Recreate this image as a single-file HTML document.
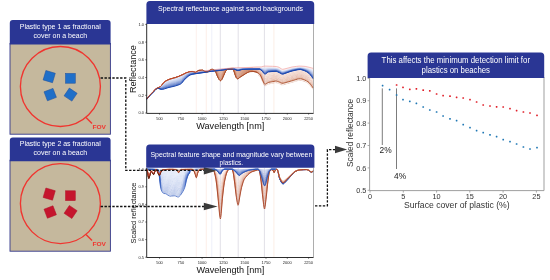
<!DOCTYPE html>
<html lang="en"><head><meta charset="utf-8"><title>Graphical abstract</title>
<style>
html,body{margin:0;padding:0;background:#fff;}
body{width:550px;height:280px;overflow:hidden;font-family:"Liberation Sans", sans-serif;}
svg{display:block;}
</style></head><body>
<svg width="550" height="280" viewBox="0 0 550 280">
<rect width="550" height="280" fill="#fff"/>
<g fill="none" stroke-linejoin="round">
<line x1="196.3" y1="24" x2="196.3" y2="113" stroke="#fae9e4" stroke-width="0.7"/>
<line x1="206.3" y1="24" x2="206.3" y2="113" stroke="#fae8df" stroke-width="0.7"/>
<line x1="211.8" y1="24" x2="211.8" y2="113" stroke="#e6e9f8" stroke-width="0.7"/>
<line x1="220.3" y1="24" x2="220.3" y2="113" stroke="#d4d3dc" stroke-width="0.7"/>
<line x1="238.2" y1="24" x2="238.2" y2="113" stroke="#d4d3dc" stroke-width="0.7"/>
<line x1="264.4" y1="24" x2="264.4" y2="113" stroke="#d4d3dc" stroke-width="0.7"/>
<line x1="273.9" y1="24" x2="273.9" y2="113" stroke="#f9e6dc" stroke-width="0.7"/>
<path d="M146.8 99l1.6 -2.1 1.6 -1.9 3.6 -3.6 2 -2.3 1.2 -.7 2.4 -1 1.2 -.7 1.2 -1.2 2.4 -3 .8 -.7 .8 -.6 2 -1 2.4 -1 5.6 -1.6 3.2 -1.2 4 -1.7 2.8 -1.5 1.2 -.5 3.6 -.9 2 -.2 .8 .1 2 .6 .8 .1 1.2 -.2 2.8 -.9 1.2 -.2 5.6 -.3 4.8 -.7 2.8 -.3 6 -.1 6 -1 5.6 -.5 1.6 -.1 2.4 .2 2 0 12.8 -.6 5.2 -.3 5.6 .1 3.2 -.4 6.8 0 4.8 .3 1.2 .3 1.6 .5 2.4 1.7 .8 .2 1.6 -.2 8.4 -2.1 4.4 -.7 2.8 -.2 2.8 .1 3.2 .3 4 1 3.6 1.2" stroke="#f9e0d7" stroke-width="0.45"/>
<path d="M146.8 99l1.6 -2.1 1.6 -1.9 3.6 -3.6 2 -2.3 1.2 -.7 2.4 -1 1.2 -.7 1.2 -1.2 2.4 -3 .8 -.7 .8 -.6 2 -1 2.4 -1 5.6 -1.6 3.2 -1.2 4 -1.7 2.8 -1.5 1.2 -.5 3.6 -.9 2 -.2 .8 .1 2 .6 .8 .1 1.2 -.2 2.4 -.8 1.2 -.3 2 -.1 4 -.2 5.6 -.8 2.8 -.2 3.6 .4 2 0 1.2 -.3 4 -1.1 2.8 -.3 3.6 -.3 1.2 0 2.4 .5 2 .1 8.4 -.6 9.2 -.6 3.2 .1 3.2 .3 6.8 -.2 4.4 .1 2.8 .1 1.2 .2 2 .7 2.4 1.6 .8 .3 1.6 -.2 8.4 -2.2 5.2 -.8 2 -.2 1.6 .1 3.2 .3 2.8 .5 2.8 .8 3.2 1.3" stroke="#f7dcd3" stroke-width="0.45" stroke-dasharray="0.8 0.5"/>
<path d="M146.8 99l1.6 -2.1 1.6 -1.9 3.6 -3.6 2 -2.3 1.2 -.7 2.4 -1 1.2 -.7 1.2 -1.2 2.4 -3 .8 -.7 .8 -.6 2 -1 2.4 -1 5.6 -1.6 3.2 -1.2 4 -1.7 2.8 -1.5 1.2 -.5 3.6 -.9 2 -.2 .8 .1 2 .6 .8 .1 1.2 -.3 2 -.6 1.6 -.4 2 -.2 2 .1 2 -.1 4.8 -.9 2.4 -.1 1.6 0 2.8 .7 2 .1 1.6 -.3 3.2 -1.2 1.6 -.5 5.2 -.4 1.6 0 2.4 .8 1.6 .2 10 -1 8 -.4 3.2 .1 3.2 .6 2.4 .1 6 -.2 4 .1 2 .1 1.2 .3 1.6 .6 2.4 1.5 .8 .3 1.6 -.2 8.4 -2.2 5.2 -.8 2 -.2 1.6 0 3.6 .4 2.8 .7 2.8 .9 2.8 1.3" stroke="#f6d9cf" stroke-width="0.45"/>
<path d="M146.8 99l1.6 -2.1 1.6 -1.9 3.6 -3.6 2 -2.3 1.2 -.7 2.4 -1 1.2 -.7 1.2 -1.2 2.4 -3 .8 -.7 .8 -.6 2 -1 2.4 -1 5.6 -1.6 3.2 -1.2 4 -1.7 2.8 -1.5 1.2 -.5 3.6 -.9 2 -.2 .8 .1 2 .6 .8 .1 1.2 -.3 2 -.7 1.6 -.4 2 -.1 2 .1 2 -.1 4.8 -.9 2 -.1 2 .1 2.8 1 .8 .2 1.2 .1 1.6 -.4 3.2 -1.6 .8 -.3 .8 -.2 2 -.3 3.6 -.2 1.2 .1 2.4 1.2 1.6 .2 11.2 -1.4 6.8 -.3 3.6 .3 1.2 .2 1.6 .5 2.8 .5 4.8 -.3 4.4 0 2.4 .1 1.2 .3 1.6 .5 2.4 1.6 .8 .2 1.6 -.2 7.2 -1.9 3.6 -.7 3.6 -.6 2.8 0 3.6 .4 2.8 .7 2.8 1.1 2.8 1.3" stroke="#f4d5ca" stroke-width="0.45" stroke-dasharray="0.8 0.5"/>
<path d="M146.8 99l1.6 -2.1 1.6 -1.9 3.6 -3.6 2 -2.3 1.2 -.7 2.4 -1 1.2 -.7 1.2 -1.2 2.4 -3 .8 -.7 .8 -.6 2 -1 2.4 -1 5.6 -1.6 3.2 -1.2 4 -1.7 2.8 -1.5 1.2 -.5 2.4 -.7 1.6 -.3 1.2 -.1 .8 .1 2.4 .6 .8 .1 1.2 -.3 1.6 -.7 2 -.4 2 -.1 2 .1 2.4 -.1 4 -.9 2 -.1 1.2 0 1.2 .2 1.6 .8 1.2 .5 .8 .2 1.2 .2 .8 -.2 .8 -.3 3.2 -1.8 .8 -.4 .8 -.2 1.6 -.3 3.6 -.2 1.2 0 .8 .3 .8 .6 1.2 .7 .4 .1 1.2 .2 7.2 -1.1 4 -.6 6.4 -.3 2 .1 2 .3 1.2 .3 1.6 .7 2 .6 .8 .1 4.8 -.4 4.4 -.1 2.4 .1 1.2 .3 1.6 .6 2.4 1.5 .8 .3 1.6 -.2 7.2 -2 4 -.8 3.2 -.5 1.6 -.1 1.2 .1 3.6 .5 2.8 .7 2.8 1.1 2.8 1.5" stroke="#f2d1c5" stroke-width="0.45"/>
<path d="M146.8 99l1.6 -2.1 1.6 -1.9 3.6 -3.6 2 -2.3 1.2 -.7 2.4 -1 1.2 -.7 1.2 -1.2 2.4 -3 .8 -.7 .8 -.6 2 -1 2.4 -1 5.6 -1.6 3.2 -1.2 4 -1.7 2.8 -1.5 1.2 -.5 2.4 -.7 1.6 -.3 1.6 -.1 .8 .1 2 .6 .8 .1 1.2 -.4 1.6 -.6 2 -.4 2 -.2 2 .2 2.4 0 4 -1 .8 -.1 1.2 -.1 1.2 .1 1.2 .3 1.6 1 1.2 .6 .8 .3 1.2 .2 .8 -.2 .8 -.3 3.2 -2.2 .8 -.4 .8 -.3 1.6 -.3 3.6 -.2 1.2 .1 .4 .1 .4 .3 .8 .7 1.2 .8 .4 .2 1.2 .2 .8 -.1 1.2 -.3 5.2 -1 4 -.6 4.4 -.3 2 0 2.4 .2 2 .4 .8 .3 1.6 .8 1.6 .7 1.2 .3 4.4 -.5 4.8 -.1 2.4 .1 1.2 .3 1.6 .5 2.4 1.5 .8 .3 1.6 -.2 7.2 -2 4.8 -1 3.2 -.4 2.4 .1 3.2 .5 3.2 .9 2.4 1.1 2.8 1.6" stroke="#f1cdc0" stroke-width="0.45" stroke-dasharray="0.8 0.5"/>
<path d="M146.8 99l1.6 -2.1 1.6 -1.9 3.6 -3.6 2 -2.3 1.2 -.7 2.4 -1 1.2 -.7 1.2 -1.2 2.4 -3 .8 -.7 .8 -.6 2 -1 2.4 -1 5.6 -1.6 3.2 -1.2 4 -1.7 2.8 -1.5 1.2 -.5 2.4 -.7 1.6 -.3 1.2 -.1 .8 .1 2 .5 .8 .2 .8 -.2 2.4 -.9 1.6 -.3 2.4 -.2 2 .3 2.4 -.1 4 -1 .8 -.2 1.2 0 1.2 .1 1.2 .4 1.6 1.2 1.2 .7 .8 .4 1.2 .2 .8 -.1 .8 -.4 3.2 -2.5 .8 -.5 .8 -.3 1.6 -.3 3.6 -.3 1.2 .2 .4 .1 .4 .3 .8 .9 1.2 .9 .4 .2 1.2 .3 .8 -.1 1.2 -.3 5.2 -1.2 4 -.7 4.4 -.3 1.6 0 2.4 .2 2.4 .5 .8 .4 1.6 1 2.4 1.1 .4 .1 .8 0 2.4 -.4 1.6 -.2 4.8 -.1 2 .1 1.2 .2 1.6 .6 2.4 1.5 .8 .2 1.6 -.2 7.2 -2 5.2 -1 2.8 -.4 2.4 .1 3.2 .5 3.2 1 2.4 1.1 2.8 1.8" stroke="#efc8bb" stroke-width="0.45"/>
<path d="M146.8 99l1.6 -2.1 1.6 -1.9 3.6 -3.6 2 -2.3 1.2 -.7 2.4 -1 1.2 -.7 1.2 -1.2 2.4 -3 .8 -.7 .8 -.6 2 -1 2.4 -1 5.6 -1.6 3.2 -1.2 4 -1.7 2.8 -1.5 1.2 -.5 2.4 -.7 1.6 -.3 1.2 -.1 .8 .1 2 .5 .8 .2 .8 -.2 2.4 -.9 1.6 -.4 2.4 -.2 2 .4 2.4 0 4 -1.2 .8 -.1 1.2 0 1.2 .1 1.2 .5 1.6 1.4 1.2 .8 .8 .5 1.2 .3 .8 -.2 .8 -.4 3.2 -2.9 .8 -.5 .8 -.4 1.6 -.3 3.6 -.2 1.2 .2 .4 .1 .4 .3 .8 1 1.2 1.2 .4 .2 1.2 .3 .8 -.1 1.2 -.4 5.2 -1.3 4 -.8 4 -.3 2 0 2.4 .2 1.2 .3 1.2 .4 .8 .3 1.6 1.2 2 1.3 .8 .2 1.2 -.1 2.8 -.5 5.2 -.2 2 0 1.2 .2 2 .7 2.4 1.4 .8 .3 1.6 -.3 7.2 -2 5.2 -1.1 2.8 -.3 2.4 .1 3.6 .6 2.8 .9 2.4 1.3 2.8 1.9" stroke="#edc4b5" stroke-width="0.45" stroke-dasharray="0.8 0.5"/>
<path d="M146.8 99l1.6 -2.1 1.6 -1.9 3.6 -3.6 2 -2.3 1.2 -.7 2.4 -1 1.2 -.7 1.2 -1.2 2.4 -3 .8 -.7 .8 -.6 2 -1 2.4 -1 5.6 -1.6 3.2 -1.2 4 -1.7 2.8 -1.5 1.2 -.5 2.4 -.7 1.6 -.3 1.2 -.1 .8 .1 2 .6 .8 .1 .8 -.2 2.4 -1 1.6 -.3 2.4 -.2 2 .4 2.4 0 4 -1.2 .8 -.1 1.2 0 1.2 .2 1.2 .5 1.6 1.6 1.2 .9 .8 .5 1.2 .4 .8 -.2 .8 -.5 3.2 -3.1 .8 -.6 .8 -.4 1.6 -.4 3.6 -.2 1.2 .2 .4 .2 .4 .4 .8 1.1 1.2 1.3 .4 .3 1.2 .3 .8 -.1 1.2 -.4 5.2 -1.5 4 -.9 1.2 -.2 2.8 -.1 2 0 2.4 .3 1.2 .3 1.2 .4 .8 .4 1.6 1.3 2 1.5 .8 .4 1.2 -.2 2.8 -.6 5.2 -.3 2 0 1.2 .2 2 .7 2.4 1.5 .8 .2 1.6 -.2 7.2 -2 5.6 -1.2 2.8 -.4 2 .1 3.6 .7 2.8 1 2.4 1.3 2.8 2.1" stroke="#ebbfb0" stroke-width="0.45"/>
<path d="M146.8 99l1.6 -2.1 1.6 -1.9 3.6 -3.6 2 -2.3 1.2 -.7 2.4 -1 1.2 -.7 1.2 -1.2 2.4 -3 .8 -.7 .8 -.6 2 -1 2.4 -1 5.6 -1.6 3.2 -1.2 4 -1.7 2.8 -1.5 1.2 -.5 2.4 -.7 1.6 -.3 1.2 -.1 .8 .1 2 .6 .8 .1 .8 -.2 2.4 -1.1 1.6 -.3 2.4 -.1 2 .4 2.4 .1 .8 -.2 3.2 -1.1 .8 -.2 1.2 .1 1.2 .2 1.2 .6 1.6 1.8 1.2 1 .8 .6 1.2 .4 .8 -.2 .8 -.5 3.2 -3.5 .8 -.6 .8 -.5 1.6 -.4 3.6 -.2 .4 .1 .8 .2 .4 .2 .4 .4 .8 1.3 1.2 1.4 .4 .3 1.2 .4 .8 -.1 1.2 -.5 5.2 -1.6 4 -1 1.2 -.2 4.4 -.1 1.6 .1 1.2 .2 1.2 .3 1.2 .5 1.2 .8 1.2 1.2 2 1.7 .8 .4 1.2 -.2 2 -.5 .8 -.1 5.2 -.4 2 0 1.2 .2 2 .7 2.4 1.4 .8 .2 .4 0 1.2 -.2 7.6 -2.1 4.4 -1 2.4 -.4 2 -.1 1.6 .2 2.4 .4 1.6 .5 1.6 .6 1.2 .6 1.6 .9 2.8 2.3" stroke="#e9bbaa" stroke-width="0.45" stroke-dasharray="0.8 0.5"/>
<path d="M146.8 99l1.6 -2.1 1.6 -1.9 3.6 -3.6 2 -2.3 1.2 -.7 2.4 -1 1.2 -.7 1.2 -1.2 2.4 -3 .8 -.7 .8 -.6 2 -1 2.4 -1 5.6 -1.6 3.2 -1.2 4 -1.7 2.8 -1.5 1.2 -.5 2.4 -.7 2 -.3 1.6 0 2 .6 .8 .1 .8 -.2 2.4 -1.1 1.2 -.3 2.8 -.2 2 .6 2.4 0 .8 -.2 3.2 -1.2 .8 -.1 1.2 .1 1.2 .2 1.2 .7 .4 .4 1.2 1.6 1.2 1.2 .8 .6 1.2 .4 .8 -.2 .8 -.5 3.2 -3.8 .8 -.7 .8 -.5 1.6 -.4 3.6 -.2 .4 0 .8 .3 .4 .2 .4 .5 .8 1.3 1.2 1.6 .4 .4 1.2 .4 .8 -.1 1.2 -.6 5.2 -1.7 4 -1.1 1.2 -.2 4.4 -.1 1.6 .1 1.2 .3 1.2 .3 1.2 .6 .8 .5 .4 .3 1.2 1.3 2 2 .4 .3 .4 .1 1.2 -.2 2 -.6 .8 -.1 5.2 -.4 2 0 1.2 .2 2 .6 2.4 1.4 .8 .2 .4 0 1.2 -.2 7.6 -2.1 4.4 -1 2.4 -.4 2 -.1 1.6 .1 2.4 .5 1.6 .5 1.6 .7 1.2 .6 1.6 1 2.8 2.4" stroke="#e6b6a4" stroke-width="0.45"/>
<path d="M146.8 99l1.6 -2.1 1.6 -1.9 3.6 -3.6 2 -2.3 1.2 -.7 2.4 -1 1.2 -.7 1.2 -1.2 2.4 -3 .8 -.7 .8 -.6 2 -1 2.4 -1 5.6 -1.6 3.2 -1.2 4 -1.7 2.8 -1.5 1.2 -.5 2.4 -.7 2 -.3 1.6 0 2 .6 .8 .1 .8 -.3 2.4 -1.1 1.2 -.2 2.8 -.2 2 .6 2.4 .1 .8 -.2 3.2 -1.3 .8 -.1 1.2 0 1.2 .3 1.2 .8 .4 .4 1.2 1.7 1.2 1.4 .8 .6 .8 .4 .4 .1 .4 0 .4 -.2 .8 -.6 3.2 -4.1 .8 -.7 .8 -.6 1.6 -.4 3.6 -.2 .4 .1 .8 .3 .4 .2 .4 .5 .8 1.5 1.2 1.7 .4 .4 1.2 .5 .4 0 .4 -.1 1.2 -.6 5.2 -1.9 2.4 -.8 1.6 -.4 1.2 -.2 3.2 -.2 1.2 .1 1.6 .1 1.2 .3 1.2 .4 1.2 .6 .8 .5 .4 .4 1.2 1.5 2 2.1 .4 .4 .4 .1 1.2 -.2 2 -.6 .8 -.2 5.2 -.4 2 -.1 1.2 .2 2 .7 2.4 1.4 .8 .2 .4 0 1.2 -.2 7.6 -2.2 4.8 -1.1 2 -.4 2 -.1 1.6 .2 2.4 .5 1.6 .5 1.6 .7 1.2 .6 1.6 1.1 1.2 1 1.6 1.5" stroke="#e4b19f" stroke-width="0.45" stroke-dasharray="0.8 0.5"/>
<path d="M146.8 99l1.6 -2.1 1.6 -1.9 3.6 -3.6 2 -2.3 1.2 -.7 2.4 -1 1.2 -.7 1.2 -1.2 2.4 -3 .8 -.7 .8 -.6 2 -1 2.4 -1 5.6 -1.6 3.2 -1.2 4 -1.7 2.8 -1.5 1.2 -.5 2.4 -.7 2 -.3 1.6 0 2 .6 .8 .1 .8 -.3 2 -1 1.2 -.3 1.6 -.2 1.6 0 2 .6 1.2 .1 1.2 0 .8 -.2 3.2 -1.3 .8 -.2 1.2 .1 1.2 .3 1.2 .8 .4 .5 1.2 1.9 1.2 1.5 .8 .7 .8 .5 .4 .1 .4 -.1 .4 -.2 .8 -.6 3.2 -4.4 .8 -.8 .8 -.6 1.6 -.5 3.6 -.1 .4 0 .8 .3 .4 .3 .4 .5 .8 1.7 1.2 1.9 .4 .4 .8 .4 .4 .1 .4 0 .4 -.1 1.2 -.7 5.2 -2 2.4 -.9 1.6 -.4 1.2 -.2 3.2 -.2 1.2 .1 1.6 .1 1.2 .3 1.2 .5 1.2 .6 .8 .6 .4 .4 3.2 4 .4 .4 .4 .1 1.2 -.1 2 -.8 .8 -.1 5.2 -.6 2 0 1.2 .2 1.6 .5 .8 .3 2 1.2 .8 .2 .4 0 1.2 -.2 7.2 -2.1 5.2 -1.2 2 -.4 2 -.1 1.6 .2 2.4 .6 1.6 .5 1.6 .7 1.2 .6 1.6 1.2 1.2 1 1.6 1.6" stroke="#e2ac99" stroke-width="0.45"/>
<path d="M146.8 99l1.6 -2.1 1.6 -1.9 3.6 -3.6 2 -2.3 1.2 -.7 2.4 -1 1.2 -.7 .8 -.8 2.4 -3 .8 -.8 .8 -.6 1.6 -.9 1.6 -.8 2 -.7 5.2 -1.5 2.8 -1 4.4 -1.9 3.2 -1.7 1.2 -.4 2.8 -.8 2 -.2 .8 .1 2 .6 .8 .1 .8 -.3 2.4 -1.2 1.6 -.3 2.4 -.1 2 .7 2 .2 .4 0 .8 -.3 2.8 -1.2 .8 -.3 1.2 0 1.2 .3 .8 .4 .8 .6 .4 .6 1.2 2 1.6 2 .8 .6 .8 .4 .4 -.1 .4 -.2 .8 -.6 3.2 -4.8 .8 -.8 .8 -.7 1.2 -.4 .8 -.1 3.2 -.1 .8 .2 .8 .5 .4 .6 .8 1.7 1.2 2.1 .4 .4 .8 .5 .4 .1 .4 0 .4 -.1 1.2 -.7 6.4 -2.7 3.2 -1 .8 -.2 3.6 -.1 2 .2 1.2 .3 2 .7 .8 .5 .8 .7 3.6 4.8 .4 .4 .4 .1 1.2 -.1 2 -.8 .8 -.2 5.2 -.6 2 -.1 1.2 .2 1.6 .6 .8 .3 2 1.1 .8 .2 .4 0 1.2 -.2 7.2 -2 5.6 -1.4 2 -.4 2 0 1.6 .3 2.4 .6 1.6 .6 1.6 .7 1.2 .8 1.2 .9 1.2 1.1 1.6 1.7" stroke="#e0a792" stroke-width="0.45" stroke-dasharray="0.8 0.5"/>
<path d="M146.8 99l1.6 -2.1 1.6 -1.9 3.6 -3.6 2 -2.3 1.2 -.7 2.4 -1 1.2 -.7 .8 -.8 2.4 -3 .8 -.8 .8 -.6 1.6 -.9 1.6 -.8 2 -.7 5.2 -1.5 2.8 -1 4.4 -1.9 3.2 -1.7 1.2 -.4 2.8 -.8 2 -.2 .8 .1 2 .6 .8 .1 .4 -.1 2.8 -1.5 1.6 -.2 2.4 -.1 2 .8 2 .2 .4 -.1 .8 -.2 2.8 -1.3 .8 -.3 1.2 0 1.2 .3 .8 .4 .8 .7 .4 .6 1.2 2.2 1.6 2.2 .8 .6 .8 .4 .4 0 .4 -.3 .8 -.7 3.2 -5 1.2 -1.3 .8 -.5 1.2 -.3 2.8 -.1 1.2 0 .4 .1 .8 .6 .4 .6 .8 1.9 1.2 2.2 .4 .5 .8 .5 .4 .2 .4 -.1 .4 -.1 1.2 -.8 6.4 -2.8 1.6 -.7 1.6 -.4 .8 -.2 3.2 -.1 1.6 .1 1.6 .3 1.2 .4 1.2 .5 .8 .6 .8 .7 3.6 5.2 .4 .4 .4 .2 1.2 -.2 2 -.9 .8 -.2 5.2 -.6 2 -.1 .8 .1 1.2 .3 1.6 .6 2 1.2 .8 .2 .4 0 1.2 -.3 6.8 -1.9 6 -1.6 2 -.3 2 0 1.6 .3 2.4 .6 1.6 .6 1.6 .8 1.2 .8 1.2 1 1.2 1.1 1.6 1.8" stroke="#dea28c" stroke-width="0.45"/>
<path d="M146.8 99l1.6 -2.1 1.6 -1.9 3.6 -3.6 2 -2.3 1.2 -.7 2.4 -1 1.2 -.7 .8 -.8 2.4 -3 .8 -.8 .8 -.6 1.6 -.9 1.6 -.8 2 -.7 5.2 -1.5 2.8 -1 4.4 -1.9 3.2 -1.7 1.2 -.4 2.8 -.8 2 -.2 .8 .1 2 .6 .8 .1 .8 -.3 2 -1.2 .4 -.2 1.2 -.1 2.8 -.1 2 .8 2 .2 .4 0 .8 -.3 2.8 -1.3 .8 -.3 1.2 0 1.2 .3 .8 .5 .8 .7 .4 .6 1.2 2.4 1.6 2.3 .8 .7 .8 .4 .4 0 .4 -.3 .8 -.7 3.2 -5.4 1.2 -1.4 .4 -.3 .8 -.3 .8 -.2 .8 -.1 3.2 0 .4 .2 .8 .6 .4 .7 .8 2 1.2 2.3 .4 .5 .8 .6 .4 .2 .4 -.1 .4 -.1 1.2 -.8 6.4 -3.1 1.6 -.6 1.6 -.6 .8 -.1 3.2 -.1 1.6 .1 1.6 .3 1.2 .4 1.2 .6 .8 .6 .8 .7 3.6 5.6 .4 .5 .4 .2 .4 0 .8 -.2 2 -.9 .8 -.2 5.2 -.7 2 -.2 .8 .1 1.2 .4 1.6 .6 2 1.1 .8 .2 .4 0 1.2 -.2 6.8 -2 6 -1.6 2 -.3 2 -.1 1.6 .3 2.4 .7 1.6 .6 1.6 .9 1.2 .8 1.2 1 1.2 1.2 1.6 1.9" stroke="#db9d86" stroke-width="0.45" stroke-dasharray="0.8 0.5"/>
<path d="M146.8 99l1.6 -2.1 1.6 -1.9 3.6 -3.6 2 -2.3 1.2 -.7 2.4 -1 1.2 -.7 1.2 -1.2 2.4 -3 .8 -.7 1.6 -1 1.6 -.8 2 -.8 5.6 -1.6 2.8 -1 4.4 -1.9 3.2 -1.7 1.2 -.4 2.8 -.8 2 -.2 .8 .1 2 .6 .8 .1 .4 -.1 2.4 -1.5 .4 -.1 1.2 -.2 2.8 -.1 2 .9 2 .3 .4 -.1 .8 -.2 2.8 -1.5 .8 -.3 1.2 .1 1.2 .3 .8 .5 .8 .8 .4 .6 1.2 2.6 1.6 2.4 .8 .8 .8 .5 .4 -.1 .4 -.3 .8 -.7 3.2 -5.7 1.2 -1.5 .4 -.3 .8 -.4 .8 -.2 .8 0 2.8 -.1 .4 .1 .4 .2 .8 .6 .4 .7 .8 2.2 1.2 2.4 .4 .6 .8 .6 .4 .2 .4 0 .4 -.2 1.2 -.9 6.4 -3.2 1.6 -.7 1.6 -.6 .8 -.1 3.2 -.1 1.6 .1 1.6 .3 1.2 .5 1.2 .6 .8 .6 .8 .8 3.6 6 .4 .5 .4 .2 .4 0 .8 -.2 2 -1 .8 -.2 5.2 -.8 2 -.1 .8 .1 1.2 .4 1.6 .6 2 1 .8 .2 .4 0 1.2 -.2 6.8 -2 6.4 -1.7 2 -.3 1.6 0 1.6 .3 2.4 .7 1.6 .7 1.6 .8 1.2 .9 1.2 1.1 1.2 1.2 1.6 2" stroke="#d99880" stroke-width="0.45"/>
<path d="M146.8 99l1.6 -2.1 1.6 -1.9 3.6 -3.6 2 -2.3 1.2 -.7 2.4 -1 1.2 -.7 1.2 -1.2 2.4 -3 .8 -.7 1.6 -1 1.6 -.8 2 -.8 5.6 -1.6 2.8 -1 4.4 -1.9 3.2 -1.7 1.2 -.4 2.8 -.8 2 -.2 .8 .1 2 .6 .8 .1 .4 -.1 2.4 -1.5 .4 -.2 1.2 -.1 2.8 -.1 2 .9 2 .3 .8 -.1 3.2 -1.7 .8 -.3 .4 -.1 .8 .1 1.2 .4 .8 .5 .8 .9 .4 .7 1.2 2.7 1.6 2.6 .8 .8 .8 .5 .4 -.1 .4 -.2 .8 -.9 3.2 -6 1.2 -1.5 .4 -.4 .8 -.3 .8 -.2 .8 -.1 2.8 -.1 .4 .1 .4 .2 .8 .7 .4 .8 .8 2.2 1.2 2.7 .4 .6 .8 .6 .4 .2 .4 0 .4 -.2 1.2 -.9 6.4 -3.5 1.6 -.7 1.6 -.6 .8 -.1 3.2 -.1 1.6 .1 1.6 .4 1.2 .4 1.2 .7 .8 .7 .8 .8 3.6 6.4 .4 .5 .4 .2 .4 0 .8 -.2 2 -1 .8 -.3 5.2 -.8 1.6 -.1 1.2 .1 1.2 .3 1.2 .4 2 1.1 .8 .3 1.2 0 14 -3.9 2 -.3 1.6 0 1.6 .3 2.4 .7 1.6 .7 1.6 .9 1.2 .9 1.2 1.1 1.2 1.3 1.6 2.1" stroke="#d79379" stroke-width="0.45" stroke-dasharray="0.8 0.5"/>
<path d="M146.8 99l1.6 -2.1 1.6 -1.9 3.6 -3.6 2 -2.3 1.2 -.7 2.4 -1 1.2 -.7 .8 -.8 2.4 -3 .8 -.8 1.6 -1.1 2 -1 2.8 -1.1 4.4 -1.2 2.4 -.8 5.2 -2.2 3.6 -1.8 2.8 -.9 1.6 -.3 1.6 -.1 .8 .2 1.6 .5 .8 .1 .4 -.1 2 -1.4 .8 -.4 3.2 -.2 .8 .1 .4 .1 1.6 .9 1.2 .2 1.2 0 .8 -.3 3.2 -1.7 .8 -.2 .8 .1 1.2 .4 .4 .2 .8 .8 .4 .5 .4 .7 1.2 2.8 1.2 2.2 .8 1.1 .8 .7 .4 .2 .4 -.1 .4 -.2 .8 -.9 3.2 -6.3 .8 -1.2 .8 -.8 1.2 -.5 .8 -.2 3.2 0 .4 .1 .4 .2 .8 .7 .4 .8 .8 2.4 1.2 2.8 .4 .6 .8 .7 .4 .2 .4 0 .4 -.3 .8 -.6 .8 -.5 4.8 -2.8 2 -1 1.2 -.5 1.2 -.5 .8 -.1 2.8 -.2 1.2 .1 1.6 .3 1.2 .3 1.6 .8 1.2 1 .8 .9 .4 .6 3.2 6.1 .4 .6 .4 .2 .4 0 .8 -.2 2 -1.1 .8 -.2 5.2 -.9 1.6 -.2 1.2 .1 1.2 .4 1.2 .4 2 1 .8 .3 1.2 0 14 -3.9 1.6 -.3 1.6 -.1 1.6 .3 2.8 .9 1.6 .7 1.6 .9 1.2 .9 1.2 1.2 1.2 1.3 1.6 2.1" stroke="#d48d73" stroke-width="0.45"/>
<path d="M146.8 99l1.6 -2.1 1.6 -1.9 3.6 -3.6 2 -2.3 1.2 -.7 2.4 -1 1.2 -.7 .8 -.8 2.4 -3 .8 -.8 1.6 -1.1 2 -1 2.8 -1.1 4.4 -1.2 2.4 -.8 5.2 -2.2 3.6 -1.8 2.8 -.9 1.6 -.3 1.6 -.1 .8 .2 1.6 .5 .8 .1 .4 -.2 2 -1.3 .8 -.4 2.8 -.2 1.2 0 2 1.1 1.2 .2 1.2 .1 .8 -.3 3.2 -1.8 .8 -.2 .8 .1 1.2 .4 .4 .2 .8 .9 .4 .5 .4 .7 1.2 3 1.2 2.3 .8 1.2 .8 .7 .4 .2 .4 0 .4 -.3 .8 -.9 3.2 -6.7 .8 -1.2 .8 -.9 1.2 -.5 .8 -.1 3.2 -.1 .4 .1 .4 .2 .8 .7 .4 .9 .8 2.6 1.2 2.9 .4 .7 .8 .7 .4 .2 .4 0 .4 -.3 1.2 -1 6 -3.5 1.6 -.9 1.6 -.6 1.2 -.4 2.8 -.1 1.2 .1 1.6 .3 1.2 .4 1.6 .8 1.2 1 .8 .9 .4 .7 3.2 6.5 .4 .6 .4 .3 .4 -.1 .8 -.2 2 -1.1 .8 -.3 5.2 -.9 1.6 -.2 .8 0 1.2 .3 1.6 .6 2 1 .8 .3 1.2 0 14 -4 1.6 -.4 1.6 0 1.6 .3 2.8 .9 1.6 .7 1.6 1 1.2 .9 1.2 1.2 1.2 1.5 1.6 2.1" stroke="#d2886c" stroke-width="0.45" stroke-dasharray="0.8 0.5"/>
<path d="M146.8 99l1.6 -2.1 1.6 -1.9 3.6 -3.6 2 -2.3 1.2 -.7 2.4 -1 1.2 -.7 .8 -.8 2.4 -3 .8 -.8 1.6 -1.1 2 -1 2.8 -1.1 4.4 -1.2 2.4 -.8 5.2 -2.2 3.6 -1.8 2.8 -.9 1.6 -.3 1.6 -.1 .8 .2 1.6 .5 .8 .1 .4 -.2 2 -1.4 .8 -.4 2.8 -.2 1.2 .1 2 1.1 1.2 .3 1.2 0 .8 -.3 3.2 -1.9 .8 -.2 .8 .1 1.2 .5 .4 .3 .8 .8 .4 .6 .4 .8 1.2 3.1 1.2 2.4 .8 1.3 .8 .8 .4 .2 .4 -.1 .4 -.3 .8 -1 3.2 -6.9 .8 -1.3 .8 -.9 1.2 -.6 .8 -.1 3.2 0 .4 0 .4 .3 .8 .7 .4 1 .8 2.6 1.2 3.1 .4 .7 .8 .8 .4 .2 .4 0 .4 -.3 1.2 -1 6 -3.7 1.6 -.9 1.6 -.8 1.2 -.3 2.8 -.1 1.2 .1 1.6 .3 1.2 .4 1.6 .9 1.2 1 .8 1 .4 .7 3.2 6.9 .4 .6 .4 .3 .4 0 .8 -.3 2 -1.2 .8 -.3 5.2 -1 1.6 -.2 .8 .1 1.2 .3 1.6 .5 2 1 .8 .3 1.2 0 14 -4.1 1.6 -.3 1.6 -.1 1.6 .4 2.8 .9 1.6 .7 1.6 1 1.2 1 1.2 1.3 1.2 1.5 1.6 2.2" stroke="#b9623f" stroke-width="0.5"/>
<path d="M146.8 99l1.6 -2.1 1.6 -1.9 3.6 -3.6 2 -2.3 1.2 -.7 2.4 -1 1.2 -.7 .8 -.8 2.4 -3 .8 -.8 1.6 -1.1 2 -1 2.8 -1.1 4.4 -1.2 2.4 -.8 5.2 -2.2 3.6 -1.8 2.8 -.9 1.6 -.3 1.6 -.1 .8 .2 1.6 .5 .8 .1 .4 -.2 2 -1.4 .8 -.5 2.8 -.1 1.2 0 2 1.2 1.2 .3 1.2 .1 .8 -.3 3.2 -2 .8 -.2 .8 .1 1.2 .5 .4 .3 .8 .9 .4 .6 .4 .8 1.2 3.3 1.2 2.5 .8 1.4 .8 .8 .4 .2 .4 -.1 .4 -.3 .8 -1 3.2 -7.3 .8 -1.3 .8 -1 1.2 -.5 .8 -.2 3.2 0 .4 .1 .4 .2 .8 .8 .4 1 .8 2.8 1.2 3.2 .4 .8 .8 .8 .4 .2 .4 0 .4 -.3 1.2 -1.1 6 -3.9 1.6 -.9 1.6 -.8 1.2 -.3 2.8 -.1 1.2 .1 2 .4 1.2 .5 1.6 1.1 1.2 1.2 .8 1.3 3.2 7.3 .4 .6 .4 .3 .4 0 .8 -.3 2 -1.3 .8 -.3 5.2 -1 1.6 -.2 .8 0 1.2 .3 1.6 .6 2 1 .8 .2 1.2 0 10 -2.8 4 -1.3 1.6 -.3 1.6 -.1 1.6 .3 2.8 1 1.6 .8 1.6 1 1.2 1 1.2 1.3 1.2 1.6 1.6 2.3" stroke="#a8441f" stroke-width="0.85"/>
<path d="M213.2 69.9l2.4 0 2.8 .7 2 .1 1.6 -.3 4 -1.5 .8 -.2 2 -.2 3.6 -.2 1.2 0 2.4 .8 1.6 .2 9.6 -1 5.6 -.3" stroke="#c98263" stroke-width="0.5"/>
<path d="M213.2 69.9l1.2 0 1.2 .2 1.6 .8 1.2 .5 .8 .2 1.2 .2 .8 -.2 .8 -.3 3.2 -1.8 .8 -.4 .8 -.2 1.6 -.3 3.6 -.2 1.2 0 .8 .3 .8 .6 1.2 .7 .4 .1 1.2 .2 9.6 -1.5 2.4 -.3 3.2 -.2" stroke="#c98263" stroke-width="0.5"/>
<path d="M213.2 69.8l1.2 .1 1.2 .4 1.6 1.2 1.2 .7 .8 .4 1.2 .2 .8 -.1 .8 -.4 3.2 -2.5 .8 -.5 .8 -.3 1.6 -.3 3.6 -.3 1.2 .2 .4 .1 .4 .3 .8 .9 1.2 .9 .4 .2 1.2 .3 .8 -.1 1.6 -.4 7.6 -1.6 2 -.3 3.2 -.2" stroke="#c98263" stroke-width="0.5"/>
<path d="M213.2 69.8l1.2 .2 1.2 .5 1.6 1.6 1.2 .9 .8 .5 1.2 .4 .8 -.2 .8 -.5 3.2 -3.1 .8 -.6 .8 -.4 1.6 -.4 3.6 -.2 1.2 .2 .4 .2 .4 .4 .8 1.1 1.2 1.3 .4 .3 1.2 .3 .8 -.1 1.6 -.6 7.6 -2 2 -.3 3.2 -.2" stroke="#c98263" stroke-width="0.5"/>
<path d="M213.2 69.8l1.2 .2 1.2 .7 .4 .4 1.2 1.6 1.2 1.2 .8 .6 1.2 .4 .8 -.2 .8 -.5 3.2 -3.8 .8 -.7 .8 -.5 1.6 -.4 3.6 -.2 .4 0 .8 .3 .4 .2 .4 .5 .8 1.3 1.2 1.6 .4 .4 1.2 .4 .8 -.1 1.6 -.7 7.6 -2.4 2 -.5 3.2 -.1" stroke="#c98263" stroke-width="0.5"/>
<path d="M213.2 69.7l1.2 .3 1.2 .8 .4 .5 1.2 1.9 1.2 1.5 .8 .7 .8 .5 .4 .1 .4 -.1 .4 -.2 .8 -.6 3.2 -4.4 .8 -.8 .8 -.6 1.6 -.5 3.6 -.1 .4 0 .8 .3 .4 .3 .4 .5 .8 1.7 1.2 1.9 .4 .4 .8 .4 .4 .1 .4 0 .4 -.1 1.6 -.8 4.8 -1.9 2.8 -1 2 -.5 3.2 -.2" stroke="#c98263" stroke-width="0.5"/>
<path d="M213.2 69.7l1.2 .4 1.2 .9 .4 .6 1.2 2.2 1.2 1.7 .8 .9 .8 .5 .4 .1 .4 0 .4 -.3 .8 -.7 3.2 -5 .8 -.9 .8 -.7 1.2 -.4 .8 -.2 3.2 -.1 .4 .1 .8 .4 .4 .3 .4 .6 .8 1.9 1.2 2.2 .4 .5 .8 .5 .4 .2 .4 -.1 .4 -.1 1.6 -1 4.8 -2.1 2.8 -1.2 2 -.5 3.2 -.2" stroke="#c98263" stroke-width="0.5"/>
<path d="M213.2 69.6l1.2 .5 1.2 1.1 .4 .6 1.2 2.6 1.2 1.9 .8 1 .8 .6 .4 .2 .4 -.1 .4 -.3 .8 -.7 3.2 -5.7 .8 -1.1 .8 -.7 1.2 -.5 .8 -.1 3.2 -.1 .4 .1 .8 .4 .4 .4 .4 .7 .8 2.2 1.2 2.4 .4 .6 .8 .6 .4 .2 .4 0 .4 -.2 .8 -.6 .8 -.5 4.8 -2.4 2.8 -1.3 2 -.7 3.2 -.1" stroke="#c98263" stroke-width="0.5"/>
<path d="M213.2 69.6l1.2 .5 1.2 1.3 .4 .7 1.2 2.8 1.2 2.2 .8 1.1 .8 .7 .4 .2 .4 -.1 .4 -.2 .8 -.9 3.2 -6.3 .8 -1.2 .8 -.8 1.2 -.5 .8 -.2 3.2 0 .4 .1 .8 .5 .4 .4 .4 .8 .8 2.4 1.2 2.8 .4 .6 .8 .7 .4 .2 .4 0 .4 -.3 .8 -.6 .8 -.5 4.8 -2.8 2.8 -1.4 2 -.7 3.2 -.2" stroke="#c98263" stroke-width="0.5"/>
<path d="M213.2 69.6l1.2 .6 1.2 1.4 .4 .8 1.2 3.1 1.2 2.4 .8 1.3 .8 .8 .4 .2 .4 -.1 .4 -.3 .8 -1 3.2 -6.9 .8 -1.3 .8 -.9 1.2 -.6 .8 -.1 3.2 0 .4 0 .8 .6 .4 .4 .4 1 .8 2.6 1.2 3.1 .4 .7 .8 .8 .4 .2 .4 0 .4 -.3 .8 -.7 .8 -.6 4.8 -3 2.8 -1.5 2 -.8 3.2 -.2" stroke="#c98263" stroke-width="0.5"/>
<path d="M258 74.5l1.2 1 1.2 1.4 .8 1.6 2.8 6.4 .4 .6 .4 .3 .4 0 .8 -.3 2 -1.3 .8 -.3 5.2 -1 1.6 -.2 .8 0 1.2 .3 1.6 .6 2 1 .8 .2 1.2 0 10 -2.8 4 -1.3 1.6 -.3 1.6 -.1 1.6 .3 2.8 1 1.6 .8 1.6 1 1.2 1 1.2 1.3 1.2 1.6 1.6 2.3" stroke="#b9623f" stroke-width="0.45" stroke-dasharray="0.8 0.6"/>
<path d="M146.8 99l1.6 -2.1 1.6 -1.9 3.6 -3.6 2 -2.3 1.2 -.7 2.4 -.9 1.2 -.7 1.2 -1.2 2.4 -2.8 .8 -.7 .8 -.5 2 -1.1 2 -.8 1.6 -.5 4.4 -1.2 3.6 -1.4 3.6 -1.6 2.8 -1.5 1.2 -.6 3.6 -1 2 -.2 .8 .1 2 .6 1.2 0 1.2 -.2 2.4 -.7 1.2 -.2 5.2 -.5 8.8 -1 10.8 -.8 8.8 -.4 15.6 .2 5.6 -.3 5.2 0 3.2 -.6 3.2 0 6 .1 3.2 .3 2.4 .8 2.4 1.6 .8 .2 1.6 -.1 6.8 -1.9 1.6 -.3 4.4 -.7 2.8 -.2 2.8 .1 3.2 .4 4 .9 3.6 1.2" stroke="#e3e9f9" stroke-width="0.5"/>
<path d="M146.8 99l1.6 -2.1 1.6 -1.9 3.6 -3.6 2 -2.3 1.2 -.7 2.4 -.9 1.2 -.6 1.2 -1.1 2.4 -2.7 1.2 -1 2 -1 2.4 -1 6.4 -1.9 3.6 -1.3 2.8 -1.3 3.2 -1.9 1.2 -.6 2.4 -.8 1.6 -.3 1.2 -.1 .8 0 2.4 .5 1.2 .1 1.2 -.2 2.4 -.8 1.2 -.2 5.2 -.4 8.8 -1.1 12 -.8 7.2 -.3 16 .1 6.4 -.3 4.4 .1 3.2 -.4 4 -.2 5.6 .2 2.8 .2 2.4 .8 2.4 1.6 .8 .3 1.6 -.2 8 -2.2 4.8 -.7 2.8 -.2 3.2 .1 3.2 .5 3.6 .9 3.6 1.4" stroke="#e0e6f8" stroke-width="0.5"/>
<path d="M146.8 99l1.6 -2.1 1.6 -1.9 3.6 -3.6 2 -2.2 1.2 -.8 2.8 -1 .8 -.4 1.2 -1 2.4 -2.6 1.2 -.9 2 -1.1 2.4 -1 6 -1.7 3.2 -1.1 3.2 -1.5 3.6 -2.1 1.2 -.7 2.4 -.8 1.6 -.4 1.2 -.1 .8 0 2.4 .5 1.2 0 1.2 -.2 2.4 -.7 1.2 -.2 5.2 -.5 8.8 -1 12 -.9 7.2 -.3 3.6 .1 3.6 -.1 8.8 .1 8.8 -.3 2.4 .1 6.8 -.4 5.2 .1 3.2 .3 2.4 .8 2.4 1.6 .4 .2 .8 0 1.2 -.2 8 -2.1 4.8 -.8 3.2 -.2 4 .3 2.4 .4 3.2 1 3.6 1.5" stroke="#dce3f7" stroke-width="0.5"/>
<path d="M146.8 99.1l1.6 -2.1 1.6 -1.9 3.6 -3.6 2 -2.3 .8 -.6 .8 -.4 2.4 -.7 .8 -.3 1.2 -1 2.4 -2.5 1.2 -.9 2 -1.1 2 -.8 2 -.6 4.4 -1.2 3.6 -1.3 2.8 -1.3 3.6 -2.3 1.2 -.6 2.4 -.9 1.6 -.4 1.2 -.2 .8 0 2.4 .5 1.2 0 1.2 -.2 3.2 -.9 5.6 -.5 8.4 -1 11.2 -.9 8.4 -.4 3.6 .2 3.6 -.1 9.2 0 8.4 -.2 2.4 .2 3.6 0 3.2 -.4 6.4 .1 1.6 .2 1.6 .4 1.6 .7 2 1.3 .4 .2 .8 .1 1.2 -.2 8 -2.2 4.8 -.8 3.2 -.3 1.6 .1 2.4 .3 2.8 .6 3.2 1.1 3.2 1.5" stroke="#d7dff5" stroke-width="0.5"/>
<path d="M146.8 99.1l1.6 -2.1 1.6 -1.9 3.6 -3.6 2 -2.3 .8 -.6 .8 -.3 2.4 -.7 1.2 -.6 .8 -.6 2.4 -2.4 .8 -.6 2 -1.1 2.4 -1 2 -.6 4.8 -1.3 3.6 -1.4 2.4 -1.2 3.6 -2.3 1.2 -.7 2.4 -1 2 -.5 1.6 -.1 2.4 .4 1.2 0 1.2 -.2 3.2 -.8 5.2 -.5 8.8 -1.1 11.2 -.9 8 -.3 4 .2 3.6 -.2 8.8 0 9.2 -.2 2 .3 3.2 .2 3.6 -.5 6.8 .1 1.2 .1 1.6 .5 1.6 .6 2 1.4 .4 .2 .8 0 1.2 -.2 8 -2.2 4.8 -.8 3.2 -.3 1.6 .1 2.4 .3 2.8 .6 1.6 .6 1.6 .6 3.2 1.7" stroke="#d1dbf3" stroke-width="0.5"/>
<path d="M146.8 99.1l1.6 -2.1 1.6 -1.9 3.6 -3.6 2 -2.3 .8 -.6 1.2 -.5 2.4 -.6 .8 -.4 .8 -.6 2.8 -2.5 2.4 -1.4 3.2 -1.2 5.6 -1.5 3.6 -1.3 2.4 -1.2 4 -2.7 1.2 -.7 2.4 -1 2 -.5 1.6 -.2 2.4 .4 1.2 0 4.4 -1 5.2 -.5 8.8 -1.1 11.6 -1 7.6 -.3 4 .3 4 -.3 8.4 .1 9.2 -.2 5.2 .7 .8 -.1 2.8 -.5 4 0 3.2 .1 1.2 .2 2 .6 .8 .4 2 1.4 .4 .1 .8 .1 1.2 -.2 8 -2.3 4.8 -.8 3.2 -.3 1.6 .1 2.8 .4 2.8 .7 2.8 1.2 3.2 1.8" stroke="#cbd5f1" stroke-width="0.5"/>
<path d="M146.8 99.1l1.6 -2.1 1.6 -1.9 3.6 -3.6 2 -2.3 .8 -.5 1.2 -.6 2.4 -.5 .8 -.3 .8 -.6 2.8 -2.4 2.4 -1.3 2.8 -1.1 6 -1.7 4 -1.4 2 -1 3.6 -2.6 1.6 -1 2.4 -1.1 2 -.5 1.6 -.1 2.4 .3 1.2 -.1 4.4 -.9 5.2 -.6 8.8 -1.1 11.6 -1 7.6 -.3 4 .4 4 -.3 8.8 0 8.8 -.2 5.2 1 .8 -.1 2.8 -.6 4 0 3.6 .1 1.2 .2 2 .8 2.4 1.5 .4 .2 .8 0 1.2 -.2 8 -2.3 4.8 -.8 3.2 -.3 1.6 .1 2.8 .4 2.8 .8 1.2 .4 1.6 .8 1.6 .9 1.6 1.1" stroke="#c4d0ee" stroke-width="0.5"/>
<path d="M146.8 99.1l1.6 -2.1 1.6 -1.9 3.6 -3.6 2 -2.3 .8 -.5 1.2 -.6 2.4 -.4 .8 -.3 .8 -.5 2.8 -2.3 1.6 -.9 1.6 -.7 2.8 -1 5.6 -1.5 4 -1.5 1.2 -.6 .8 -.5 3.2 -2.4 1.6 -1.1 2.8 -1.2 2 -.5 1.2 -.1 2.4 .2 1.2 0 4.4 -1 4.8 -.5 9.2 -1.1 11.6 -1.1 7.6 -.3 4 .5 4 -.4 8.8 0 8.8 -.2 2.8 .6 1.6 .5 .8 .2 .8 -.1 2.8 -.7 4 -.1 3.6 .1 1.2 .3 2 .7 2.4 1.6 .8 .2 .4 0 1.2 -.2 8 -2.4 4.8 -.9 3.2 -.2 1.6 .1 2.8 .5 2.8 .8 1.2 .4 1.6 .9 1.6 1 1.6 1.1" stroke="#bcc9eb" stroke-width="0.5"/>
<path d="M146.8 99.1l1.6 -2.1 1.6 -1.9 3.6 -3.6 2 -2.3 .8 -.5 1.2 -.5 2.4 -.4 .8 -.3 .8 -.4 2.8 -2.2 1.6 -.9 1.6 -.7 2.8 -.9 5.6 -1.5 4 -1.5 1.6 -.9 3.6 -2.8 1.6 -1.1 2.8 -1.3 2 -.5 1.2 -.1 3.2 .2 1.2 -.2 3.6 -.8 4.8 -.5 9.2 -1.2 11.6 -1 7.6 -.3 .8 0 2.4 .4 .8 .1 4 -.4 17.6 -.2 2.8 .7 1.6 .6 .8 .2 .8 -.1 2.8 -.8 4 -.1 3.6 .1 1.2 .2 1.6 .6 .8 .4 2 1.3 .8 .2 .4 0 1.2 -.2 8 -2.4 4.8 -.9 3.2 -.2 1.6 .1 2.8 .5 1.6 .4 1.6 .6 1.2 .5 1.6 1 2.8 2" stroke="#b3c3e8" stroke-width="0.5"/>
<path d="M146.8 99.1l1.6 -2.1 1.6 -1.9 3.6 -3.6 2 -2.2 .8 -.6 1.2 -.5 2.4 -.3 .8 -.2 .8 -.5 3.2 -2.2 2.8 -1.3 2.8 -1 5.6 -1.5 4 -1.4 1.6 -.9 3.6 -2.9 1.6 -1.2 2.8 -1.3 2 -.6 1.2 -.1 3.2 .1 1.2 -.1 3.6 -.8 4.8 -.5 9.2 -1.2 11.6 -1.1 7.6 -.3 .8 0 2.4 .5 .8 .1 4 -.5 17.6 -.2 .8 .2 2 .6 1.6 .8 .8 .2 .8 -.1 2 -.7 .8 -.2 4 -.1 3.6 0 .8 .2 1.2 .4 1.6 .7 2 1.3 .8 .2 .4 0 1.2 -.2 8 -2.5 4.8 -.9 1.6 -.2 1.6 0 1.6 .1 2.8 .5 1.6 .5 1.6 .6 1.2 .5 1.6 1 2.8 2.2" stroke="#abbce5" stroke-width="0.5"/>
<path d="M146.8 99.2l1.6 -2.2 1.6 -1.9 3.6 -3.6 2 -2.2 .8 -.6 .8 -.4 .8 -.2 2 -.1 .8 -.2 1.2 -.6 2.8 -1.9 2.4 -1.1 2.8 -1 6 -1.6 2.4 -.8 1.6 -.7 1.6 -.8 3.6 -3.1 2 -1.4 2.8 -1.3 2 -.5 .8 -.1 2.4 .1 1.2 0 4.4 -.9 4.8 -.6 6 -.8 13.6 -1.4 2.4 -.2 6.4 -.2 .8 .1 2.4 .5 .8 .1 4 -.5 17.6 -.3 .8 .2 2 .8 1.6 .8 .8 .2 .8 0 2 -.8 .8 -.2 4 -.2 3.6 .1 1.2 .2 2 .8 2.4 1.5 .8 .2 .4 0 1.2 -.2 8 -2.5 4.8 -.9 1.6 -.2 1.6 0 1.6 .1 2.8 .5 1.6 .5 1.6 .7 1.2 .6 1.6 1 2.8 2.4" stroke="#a1b4e1" stroke-width="0.5"/>
<path d="M146.8 99.2l1.6 -2.1 1.6 -1.9 3.6 -3.6 2 -2.3 .8 -.6 1.2 -.5 .4 -.1 2 0 .8 -.2 1.2 -.5 2.8 -1.8 2.8 -1.2 2.8 -.9 5.2 -1.4 4 -1.4 2 -1.1 3.6 -3.1 2 -1.5 1.6 -.9 1.2 -.5 2 -.5 .8 -.1 2.4 .1 1.2 -.1 4.4 -.8 4.8 -.6 6 -.9 14 -1.4 2.4 -.2 6 -.2 .8 .1 2.4 .6 .8 .1 4 -.6 17.6 -.2 .8 .2 2 .8 1.6 1 .8 .2 .8 -.1 2 -.8 .8 -.2 4 -.2 3.6 .1 1.2 .2 2 .8 2.4 1.5 .8 .2 .4 0 1.2 -.3 8 -2.4 4.8 -1 1.6 -.2 1.6 -.1 1.6 .2 2.8 .6 1.6 .5 1.6 .6 1.2 .7 1.6 1.1 1.2 .9 1.6 1.6" stroke="#97acde" stroke-width="0.5"/>
<path d="M146.8 99.2l1.6 -2.1 1.6 -1.9 3.6 -3.6 2 -2.3 .8 -.6 1.2 -.5 .4 -.1 2 .1 1.2 -.2 .8 -.4 2.8 -1.7 2.8 -1.2 2.4 -.8 5.6 -1.4 4 -1.4 1.2 -.6 .8 -.5 3.6 -3.3 2 -1.5 1.6 -.9 1.2 -.6 2 -.5 4.4 -.1 4.4 -.9 4.8 -.5 6 -.9 8.8 -.9 5.2 -.6 2.4 -.2 6 -.1 .8 0 2.4 .7 .8 .1 4 -.7 17.6 -.2 .8 .2 1.6 .8 2 1.3 .8 .2 .8 -.1 2 -.9 .8 -.2 4 -.2 3.6 0 1.2 .3 2 .8 2.4 1.4 .8 .2 .4 0 1.2 -.2 8 -2.5 4.8 -1 1.6 -.2 1.6 -.1 1.6 .2 2.8 .6 1.6 .5 1.6 .7 1.2 .7 1.6 1.1 1.2 1.1 1.6 1.6" stroke="#8da3da" stroke-width="0.5"/>
<path d="M146.8 99.2l1.6 -2.1 1.6 -1.9 3.6 -3.6 2 -2.3 .8 -.6 1.2 -.5 .4 -.1 2 .2 1.2 -.2 1.2 -.5 2.4 -1.4 2.8 -1.1 2.4 -.8 5.6 -1.4 4 -1.4 1.2 -.6 .8 -.5 3.2 -3.1 2.4 -1.9 1.6 -.9 1.2 -.6 1.2 -.4 1.2 -.2 3.6 -.1 4.8 -.9 4.4 -.5 6.4 -1 8.8 -.8 5.2 -.7 2.4 -.1 6 -.2 .8 .1 2.4 .7 .8 0 4 -.6 4.8 -.1 12.8 -.2 .8 .3 1.6 .8 2 1.4 .8 .3 .8 -.1 2 -1 .8 -.2 4 -.2 3.6 0 1.2 .2 2 .8 2.4 1.5 .8 .2 .4 0 1.2 -.3 8 -2.5 4.8 -1 1.6 -.2 1.6 -.1 1.6 .2 2.8 .6 1.6 .6 1.6 .7 1.2 .7 1.6 1.2 1.2 1.1 1.6 1.7" stroke="#829ad6" stroke-width="0.5"/>
<path d="M146.8 99.2l1.6 -2.1 1.6 -1.9 3.6 -3.6 2 -2.3 .8 -.5 1.2 -.6 .4 0 2 .2 1.2 -.1 1.2 -.5 2.4 -1.2 2.8 -1.2 2.4 -.7 5.6 -1.5 4 -1.4 1.2 -.5 .8 -.6 2.8 -2.7 1.6 -1.5 1.2 -.9 1.6 -1 1.2 -.6 1.2 -.3 1.2 -.3 3.6 -.2 4.4 -.8 4.8 -.5 6.4 -1 8.8 -.9 5.2 -.6 2.4 -.2 6 -.2 .8 .1 2.4 .8 .8 0 4 -.7 5.2 -.1 12.4 -.1 .8 .2 1.6 .9 2 1.6 .8 .3 .8 -.1 2 -1 .8 -.3 4 -.3 3.6 0 1.2 .3 2 .8 2.4 1.4 .8 .2 .4 0 1.2 -.2 6 -2 2 -.6 4.8 -1 1.6 -.2 1.6 -.1 1.6 .2 2.8 .6 1.6 .6 1.6 .8 1.2 .7 1.6 1.3 1.2 1.1 1.6 1.8" stroke="#7691d1" stroke-width="0.5"/>
<path d="M146.8 99.2l1.6 -2.1 1.6 -1.9 3.6 -3.6 2 -2.3 .8 -.5 1.2 -.6 .4 0 2.4 .3 1.2 -.2 3.6 -1.6 2.4 -1 2.4 -.7 5.6 -1.4 4 -1.4 1.2 -.6 .8 -.5 2.8 -2.9 1.6 -1.4 1.2 -1 1.6 -1 1.2 -.6 1.2 -.4 1.2 -.2 4 -.4 4 -.7 4.8 -.6 6.4 -1 8.8 -.8 5.6 -.8 2 -.1 6 -.2 .8 .2 2.4 .8 .8 0 4 -.7 5.6 -.2 12 -.1 .8 .3 1.6 .9 2 1.8 .8 .3 .8 -.1 2 -1.1 .8 -.3 4 -.3 3.6 0 1.2 .2 2 .9 2.4 1.4 .8 .2 .4 0 1.2 -.3 6 -2 2 -.6 4.8 -1 1.6 -.2 1.6 -.1 1.6 .2 2.8 .7 1.6 .6 1.6 .7 1.2 .8 1.6 1.3 1.2 1.2 1.6 1.9" stroke="#6a87cd" stroke-width="0.5"/>
<path d="M146.8 99.2l2 -2.6 1.6 -1.8 3.2 -3.2 2 -2.3 1.2 -.7 .8 -.3 .4 -.1 2.4 .4 1.2 -.1 6 -2.4 8 -2.1 4 -1.4 1.2 -.6 .8 -.5 2.4 -2.6 2.8 -2.6 2 -1.3 1.6 -.8 2 -.5 4 -.4 4 -.7 4.8 -.6 6 -.9 9.2 -1 4.8 -.6 2.4 -.3 6.8 -.1 .8 .2 1.6 .6 1.2 .2 4 -.8 5.6 -.2 11.6 -.1 .8 .2 .8 .4 1.6 1.1 1.6 1.5 .4 .3 .4 .1 .8 -.1 2 -1.2 .8 -.3 4 -.3 3.6 -.1 .8 .2 .8 .2 2 1 2 1.1 .8 .2 1.2 -.1 6.4 -2.2 2.4 -.7 4.8 -1 1.6 -.2 1.6 0 1.6 .2 2.4 .7 1.6 .6 1.6 .8 1.2 .8 1.6 1.4 1.2 1.3 1.6 1.9" stroke="#5e7dc8" stroke-width="0.5"/>
<path d="M146.8 99.2l2 -2.6 1.6 -1.8 3.2 -3.2 2 -2.2 1.2 -.8 .8 -.3 .4 -.1 2.4 .5 .8 0 .8 -.1 5.6 -2.2 7.6 -1.9 2.8 -.9 1.6 -.6 1.2 -.6 .8 -.6 2.4 -2.6 2.8 -2.6 2.4 -1.7 1.6 -.7 2 -.5 3.6 -.4 15.2 -2.2 8.8 -.9 4.8 -.7 2.4 -.3 6.8 -.1 .8 .3 1.6 .6 1.2 .2 .8 -.1 2.4 -.6 .8 -.2 5.6 -.2 11.6 0 .8 .1 .8 .5 1.6 1.1 1.6 1.7 .4 .3 .4 .1 .8 -.1 2 -1.3 .8 -.3 4 -.4 3.6 0 .8 .1 .8 .3 2 .9 2 1.2 .8 .2 1.2 -.2 6.4 -2.2 2.4 -.7 4.8 -1 1.6 -.2 1.6 0 1.6 .2 2.8 .9 1.6 .6 1.6 .9 1.2 .9 1.2 1.2 1.2 1.3 1.6 2" stroke="#5173c4" stroke-width="0.5"/>
<path d="M146.8 99.3l1.6 -2.1 1.6 -1.9 3.6 -3.6 1.6 -1.9 .8 -.7 1.2 -.7 .8 -.2 2.8 .7 1.2 -.1 1.2 -.4 4.8 -1.7 7.2 -1.8 4 -1.4 1.6 -.7 .8 -.6 2.4 -2.7 2 -2 1.2 -1.1 2 -1.3 .8 -.5 .8 -.3 2 -.5 11.6 -1.6 7.2 -1.1 8.4 -.8 5.2 -.8 2.4 -.2 6.8 -.1 .8 .2 1.6 .7 .8 .2 .4 0 .8 -.1 2.4 -.7 .8 -.1 6 -.2 11.2 -.1 .8 .2 .8 .4 1.6 1.3 1.6 1.8 .4 .3 .4 .1 .8 -.2 2 -1.3 .8 -.3 3.6 -.4 4 -.1 .8 .2 .8 .3 2 .9 2 1.1 .8 .2 1.2 -.1 6.4 -2.3 2.4 -.7 4.8 -1 1.6 -.2 1.6 0 1.6 .2 2.8 .9 1.6 .7 1.6 .9 1.2 1 1.2 1.1 1.2 1.4 1.6 2.1" stroke="#4368bf" stroke-width="0.5"/>
<path d="M146.8 99.3l1.6 -2.1 1.6 -1.9 3.6 -3.6 1.6 -1.9 .8 -.7 1.2 -.6 .8 -.2 2.8 .7 .8 0 .8 -.1 1.2 -.3 4.4 -1.6 6.8 -1.6 4.4 -1.5 1.6 -.7 .8 -.6 2.4 -2.8 2 -2.1 1.2 -1 2 -1.5 .8 -.4 .8 -.3 2.4 -.6 11.2 -1.6 7.2 -1.1 8.4 -.9 5.2 -.8 2.4 -.2 6.8 -.1 .8 .2 1.6 .8 .8 .2 .4 0 1.2 -.2 2 -.7 1.2 -.1 5.6 -.2 11.2 -.1 .8 .2 .8 .5 1.6 1.3 1.6 1.9 .4 .3 .4 .2 .8 -.2 2 -1.4 .8 -.3 3.6 -.4 4 -.1 .8 .1 .8 .3 2 1 1.6 .9 .8 .3 .4 .1 1.2 -.2 6.4 -2.2 2.4 -.7 4.8 -1.1 1.6 -.2 1.6 -.1 1.6 .3 2.8 .9 1.6 .8 1.6 .9 1.2 1 1.2 1.2 1.2 1.4 1.6 2.2" stroke="#365dba" stroke-width="0.5"/>
<path d="M146.8 99.3l1.6 -2.1 1.6 -1.9 3.6 -3.6 1.6 -1.9 .8 -.7 1.2 -.6 .8 -.2 2.4 .7 .8 .2 1.6 -.1 1.6 -.5 3.2 -1.1 7.2 -1.8 4.4 -1.4 1.6 -.8 .8 -.6 2.4 -2.9 2 -2.1 1.2 -1 2 -1.5 .8 -.5 .8 -.3 1.6 -.4 1.6 -.3 10.4 -1.5 7.6 -1.3 8 -.7 5.2 -.9 2.4 -.2 6.8 -.1 .8 .3 1.6 .8 .8 .2 .4 0 1.2 -.2 2 -.7 1.2 -.2 6 -.2 10.8 0 .8 .1 .8 .6 1.6 1.4 1.6 2 .4 .3 .4 .2 .8 -.2 2 -1.4 .8 -.5 3.6 -.3 4 -.2 1.2 .3 2 .9 2 1.2 .8 .3 .4 0 1.2 -.1 6.4 -2.3 2.4 -.7 4.8 -1.1 1.6 -.2 1.6 -.1 1.6 .3 2.8 1 1.6 .7 1.6 1 1.2 1 1.2 1.3 1.2 1.4 1.6 2.3" stroke="#2852b4" stroke-width="0.5"/>
<path d="M146.8 99.3l1.6 -2.1 1.6 -1.9 3.6 -3.6 2 -2.3 .8 -.5 1.2 -.6 .4 0 3.2 1.1 .8 0 .8 -.1 1.6 -.4 3.6 -1.2 7.2 -1.7 4 -1.3 1.6 -.8 .8 -.6 2.4 -3 2.4 -2.5 2.4 -2 1.6 -.9 2.4 -.7 4 -.7 7.2 -1 7.2 -1.2 9.2 -.9 5.6 -.9 2 -.2 6 -.1 .8 .2 2.4 1.1 .8 .1 .8 -.1 2.8 -.9 1.6 -.2 5.6 -.2 10.8 0 .8 .4 1.6 1.4 .4 .4 1.6 2.1 .4 .4 .4 .2 .4 0 .4 -.2 2 -1.5 .8 -.5 3.6 -.4 4 -.1 .8 .1 .8 .3 2 1 2 1.1 .8 .2 .4 0 1.2 -.3 6 -2.2 2.4 -.7 4.8 -1.1 1.6 -.2 1.6 -.1 1.6 .3 2.8 1 1.6 .8 1.6 1 1.2 1 1.2 1.3 1.2 1.6 1.6 2.3" stroke="#1946af" stroke-width="1.0"/>
<path d="M146.8 98.8l1.6 -2.1 1.6 -1.9 3.6 -3.6 2 -2.3 1.2 -.7 2.4 -1 1.2 -.7 1.2 -1.2 2.4 -3 .8 -.7 1.6 -1 1.6 -.8 2 -.8 5.6 -1.6 2.8 -1 4.4 -1.9 3.2 -1.7 1.2 -.4 2.8 -.8 2 -.2 1.2 .1 2.4 .7" stroke="#d8452f" stroke-width="0.8"/>
<path d="M196 72.2l1.2 -.1 3.6 -1.1 6 -.5 10.8 -1.2 6 -.6 12.8 -1 13.6 -.3 5.6 -.4 5.6 -.1 2.8 -.7 .8 -.1 7.6 .2 4 .2 1.2 .3 1.6 .6 2.4 1.6 .8 .3 1.6 -.2 8 -2.1 4.4 -.6 2.8 -.3 2.8 .1 3.2 .2 4 .9 4 1.1" stroke="#ee8f8f" stroke-width="0.6"/>
<path d="M146.8 99l1.6 -2.1 1.6 -1.9 3.6 -3.6 2 -2.3 1.2 -.7 2.4 -1 1.2 -.7 1.2 -1.2 2.4 -3 1.2 -1 2 -1.1 2 -.9 2 -.7 4.4 -1.2 2 -.7 5.2 -2.2 3.6 -1.8 2.8 -.9 1.6 -.3 1.6 -.1 .8 .2 1.6 .5 .8 .1 .4 -.2 2 -1.4 .8 -.5 2.8 -.1 1.2 0 2 1.2 1.2 .3 1.2 .1 .8 -.3 3.2 -2 .8 -.2 .8 .1 1.2 .5 .4 .3 1.2 1.5 .4 .8 1.2 3.3 1.2 2.5 .8 1.4 .8 .8 .4 .2 .4 -.1 .4 -.3 .8 -1 3.2 -7.3 .8 -1.3 .8 -1 .8 -.4 .8 -.2 3.6 -.1 .4 .1 .8 .6 .4 .4 .4 1 .8 2.8 1.2 3.2 .4 .8 .8 .8 .4 .2 .4 0 .4 -.3 1.2 -1.1 6.4 -4.1 1.6 -.9 1.6 -.7 1.2 -.2 3.2 -.1 2.4 .5 1.6 .8" stroke="#a8441f" stroke-width="0.8"/>
</g>
<g stroke="#222" stroke-width="0.95" fill="none">
<path d="M146.7,23.5 V113.4 H313.6"/>
<line x1="145.2" y1="24.4" x2="146.8" y2="24.4" stroke-width="0.6"/>
<line x1="145.2" y1="42.1" x2="146.8" y2="42.1" stroke-width="0.6"/>
<line x1="145.2" y1="59.8" x2="146.8" y2="59.8" stroke-width="0.6"/>
<line x1="145.2" y1="77.5" x2="146.8" y2="77.5" stroke-width="0.6"/>
<line x1="145.2" y1="95.3" x2="146.8" y2="95.3" stroke-width="0.6"/>
<line x1="145.2" y1="113.0" x2="146.8" y2="113.0" stroke-width="0.6"/>
<line x1="159.5" y1="113" x2="159.5" y2="114.6" stroke-width="0.6"/>
<line x1="180.8" y1="113" x2="180.8" y2="114.6" stroke-width="0.6"/>
<line x1="202.1" y1="113" x2="202.1" y2="114.6" stroke-width="0.6"/>
<line x1="223.4" y1="113" x2="223.4" y2="114.6" stroke-width="0.6"/>
<line x1="244.7" y1="113" x2="244.7" y2="114.6" stroke-width="0.6"/>
<line x1="266.0" y1="113" x2="266.0" y2="114.6" stroke-width="0.6"/>
<line x1="287.3" y1="113" x2="287.3" y2="114.6" stroke-width="0.6"/>
<line x1="308.6" y1="113" x2="308.6" y2="114.6" stroke-width="0.6"/>
</g>
<line x1="313.5" y1="23.5" x2="313.5" y2="113.4" stroke="#8a8a8a" stroke-width="0.7"/>
<g font-family='"Liberation Sans", sans-serif' font-size="4" fill="#222">
<text x="144" y="25.799999999999997" text-anchor="end">1.0</text>
<text x="144" y="43.5" text-anchor="end">0.8</text>
<text x="144" y="61.199999999999996" text-anchor="end">0.6</text>
<text x="144" y="78.9" text-anchor="end">0.4</text>
<text x="144" y="96.7" text-anchor="end">0.2</text>
<text x="144" y="114.4" text-anchor="end">0.0</text>
<text x="159.5" y="119.5" text-anchor="middle">500</text>
<text x="180.8" y="119.5" text-anchor="middle">750</text>
<text x="202.1" y="119.5" text-anchor="middle">1000</text>
<text x="223.4" y="119.5" text-anchor="middle">1250</text>
<text x="244.7" y="119.5" text-anchor="middle">1500</text>
<text x="266.0" y="119.5" text-anchor="middle">1750</text>
<text x="287.3" y="119.5" text-anchor="middle">2000</text>
<text x="308.6" y="119.5" text-anchor="middle">2250</text>
</g>
<text x="230.3" y="128.5" text-anchor="middle" font-family='"Liberation Sans", sans-serif' font-size="9.9" fill="#111" textLength="68" lengthAdjust="spacingAndGlyphs">Wavelength [nm]</text>
<text transform="translate(135.8,69.1) rotate(-90)" text-anchor="middle" font-family='"Liberation Sans", sans-serif' font-size="9.9" fill="#111" textLength="48" lengthAdjust="spacingAndGlyphs">Reflectance</text>
<g fill="none" stroke-linejoin="round">
<line x1="196.3" y1="168" x2="196.3" y2="257" stroke="#fae9e4" stroke-width="0.7"/>
<line x1="206.3" y1="168" x2="206.3" y2="257" stroke="#fae8df" stroke-width="0.7"/>
<line x1="211.8" y1="168" x2="211.8" y2="257" stroke="#e6e9f8" stroke-width="0.7"/>
<line x1="220.3" y1="168" x2="220.3" y2="257" stroke="#d4d3dc" stroke-width="0.7"/>
<line x1="238.2" y1="168" x2="238.2" y2="257" stroke="#d4d3dc" stroke-width="0.7"/>
<line x1="264.4" y1="168" x2="264.4" y2="257" stroke="#d4d3dc" stroke-width="0.7"/>
<line x1="273.9" y1="168" x2="273.9" y2="257" stroke="#f9e6dc" stroke-width="0.7"/>
<path d="M146.8 169.3l10.8 0 1.6 .3 1.6 .5 1.2 .3 4 -.2 2.8 .3 1.2 .1 4 -.3 3.6 .3 4 -.4 3.2 -.1 2 -.4 2.8 -.2 .4 -.2 24.4 0 5.6 .2 3.6 -.2 8.4 0 7.6 .3 8.8 -.3 9.6 0 2 .1 3.6 .5 1.2 .1 4.8 -.6 7.2 -.1 .4 .1 .8 1.8 1.2 5 .4 1.4 .4 .8 .8 1.6 .8 1.3 .8 .8 .4 .2 .4 0 .4 -.1 .8 -.6 2.4 -2.2 7.2 -7.2 1.2 -.9 1.6 -.7 1.6 -.5 1.2 -.3 3.6 -.2 3.2 -.1 1.2 .2 1.6 .6 1.6 1.6 .4 .2 .4 -.1 .4 -.1 .4 -.3 .8 -.9" stroke="#b0c3ed" stroke-width="0.33"/>
<path d="M146.8 169.3l10.8 0 .4 .2 .8 .1 .8 .5 1.2 .9 1.2 .3 3.6 -.1 2.8 .4 1.2 .1 2.8 -.3 1.2 0 3.6 .3 1.2 0 2.8 -.5 3.2 -.2 .8 -.2 1.6 -.7 1.6 -.4 1.2 -.1 .4 -.2 24.4 -.1 2 .1 3.6 .3 2.4 -.3 1.2 -.1 8.4 0 7.6 .5 3.2 -.2 5.6 -.2 9.6 -.1 2 .2 3.6 1 1.2 .2 .8 -.2 2.8 -.8 1.2 -.3 2 -.1 5.2 0 .4 .1 .8 1.8 1.2 5.1 .4 1.3 .4 .9 .8 1.6 .8 1.3 .8 .8 .4 .2 .4 0 .4 -.1 .8 -.6 2.4 -2.2 7.2 -7.3 1.2 -.9 1.6 -.7 1.6 -.5 1.2 -.3 3.6 -.2 3.2 -.1 1.2 .2 1.6 .6 1.6 1.6 .4 .2 .4 0 .4 -.2 .4 -.3 .8 -.9" stroke="#aec0ec" stroke-width="0.33"/>
<path d="M146.8 169.3l10.8 .1 .4 .3 .8 .1 .4 .3 1.6 1.7 1.2 .4 3.2 0 3.6 .6 1.2 -.1 1.6 -.2 1.2 -.1 4.4 .5 1.2 -.1 2.4 -.5 3.2 -.3 1.2 -.5 1.2 -.8 2 -.7 1.2 -.2 .4 -.4 24.4 -.1 2 .1 3.6 .5 .8 -.1 1.6 -.4 1.2 -.1 8.4 0 2.4 .2 4 .5 1.2 .1 3.2 -.4 5.6 -.3 9.6 -.1 .8 .1 1.2 .2 3.6 1.5 1.2 .3 .8 -.2 2.8 -1.4 1.2 -.3 2 -.2 5.2 0 .4 .1 .8 1.9 1.2 5 .4 1.4 .4 .8 .8 1.6 .8 1.3 .8 .9 .4 .2 .4 0 .4 -.2 .8 -.5 2.4 -2.3 7.2 -7.3 1.2 -.9 1.6 -.7 1.6 -.5 1.2 -.3 3.6 -.2 3.2 -.1 1.2 .2 1.6 .6 1.6 1.6 .4 .2 .4 0 .4 -.2 .4 -.3 .8 -.9" stroke="#aabeeb" stroke-width="0.33"/>
<path d="M146.8 169.3l10.8 .1 .4 .4 .4 0 .4 .2 .4 .3 .4 .5 .8 1.4 .4 .4 1.2 .5 3.2 .1 2.4 .6 .8 .1 1.2 0 2 -.4 .8 0 4.4 .5 1.2 -.1 2.4 -.5 2.8 -.3 .8 -.2 1.2 -.7 1.2 -1.1 2 -.9 1.2 -.2 .4 -.6 24.4 -.1 2 .1 3.6 .7 .8 -.1 1.6 -.5 1.2 -.1 8.4 -.1 2.4 .2 4 .7 1.2 .1 3.2 -.4 5.6 -.4 9.6 -.2 .8 .1 1.2 .3 3.6 2.1 .8 .2 .4 0 .8 -.2 2.8 -1.8 .8 -.4 .4 -.1 2 -.2 5.2 0 .4 .1 .8 1.9 1.2 5.1 .4 1.3 .4 .9 .8 1.6 .8 1.3 .8 .8 .4 .2 .4 0 .4 -.1 .8 -.6 2.4 -2.2 7.2 -7.4 1.2 -.9 1.6 -.7 1.6 -.5 1.2 -.3 3.6 -.2 3.2 -.1 1.2 .2 1.6 .6 1.6 1.6 .4 .2 .4 0 .4 -.2 .4 -.3 .8 -.9" stroke="#a6bbea" stroke-width="0.33"/>
<path d="M146.8 169.3l10.8 .1 .4 .5 .4 0 .4 .2 .8 1.1 .8 1.7 .4 .5 .8 .5 .8 .1 2.4 .1 3.2 .9 1.2 0 2.8 -.4 3.6 .5 .8 .1 1.2 -.1 2.4 -.6 2.8 -.3 .8 -.3 1.2 -.7 1.6 -1.6 2 -1.2 1.2 -.3 .4 -.6 5.6 -.1 18.8 -.1 2 .2 3.6 .8 .8 -.1 1.6 -.7 1.2 -.1 8.4 -.1 2.4 .3 4 .9 1.2 .1 3.2 -.6 5.6 -.5 9.6 -.2 .8 .1 1.2 .4 3.6 2.6 .8 .3 .4 0 .8 -.3 2.8 -2.2 .8 -.5 .4 -.1 2 -.3 5.2 0 .4 .1 .8 1.9 1.2 5.1 .4 1.4 .4 .8 .8 1.6 .8 1.4 .8 .8 .4 .2 .4 0 .4 -.1 .8 -.6 2.4 -2.3 7.2 -7.4 1.2 -.9 1.6 -.7 1.6 -.5 1.2 -.3 3.6 -.2 3.2 -.1 1.2 .2 1.6 .7 1.6 1.5 .4 .2 .4 0 .4 -.2 .4 -.2 .8 -1" stroke="#a2b7e8" stroke-width="0.33"/>
<path d="M146.8 169.3l10.8 .1 .4 .6 .4 0 .4 .3 .8 1.3 .8 2 .4 .6 .8 .5 .4 .1 2.8 .3 2.4 .9 .8 .1 1.2 0 2 -.4 .8 -.1 2.8 .6 1.2 .1 1.2 0 2.4 -.6 2.8 -.4 1.2 -.4 .8 -.6 .8 -.8 1.2 -1.5 2 -1.4 .4 -.2 .8 -.1 .4 -.8 5.6 -.1 18.8 -.1 2 .2 3.6 1 .8 -.1 1.6 -.8 1.2 -.2 1.2 -.1 7.2 0 2.4 .3 4 1.1 1.2 .1 3.2 -.6 5.6 -.6 4.4 -.2 5.2 -.1 .8 .1 1.2 .5 3.6 3.1 .8 .4 .4 0 .4 -.1 .4 -.3 1.6 -1.6 1.2 -1 .8 -.6 .4 -.2 2 -.3 5.2 0 .4 .1 .8 1.9 1.2 5.1 .4 1.4 .4 .9 .8 1.6 .8 1.3 .8 .9 .4 .2 .4 0 .4 -.2 .8 -.5 2.4 -2.3 7.2 -7.5 1.2 -.8 1.6 -.8 1.6 -.5 1.2 -.3 3.6 -.2 3.2 -.1 1.2 .2 1.6 .7 1.6 1.6 .4 .1 .4 0 .4 -.1 .4 -.3 .8 -1" stroke="#9db3e6" stroke-width="0.33"/>
<path d="M146.8 169.3l10.8 .1 .4 .7 .4 .1 .4 .2 .8 1.5 .8 2.4 .4 .7 .8 .6 2.8 .5 3.2 1.1 1.2 0 2 -.5 .8 0 .8 .1 2 .5 1.2 .2 1.2 -.1 2.8 -.7 2.4 -.3 1.2 -.4 .8 -.5 .4 -.4 .8 -.9 1.2 -1.8 .4 -.3 1.6 -1.3 .4 -.2 .8 -.1 .4 -1 5.6 -.1 18.8 -.1 2 .2 1.6 .5 1.6 .7 .4 .1 .8 -.2 1.6 -1 1.2 -.2 1.2 -.1 7.2 0 .8 .1 1.6 .3 4 1.3 1.2 .1 3.2 -.8 5.6 -.7 4.4 -.2 5.2 -.1 .8 .2 .8 .3 .4 .3 3.6 3.5 .8 .5 .4 0 .4 -.1 .4 -.3 1.6 -1.9 1.2 -1.2 .8 -.7 .4 -.2 2 -.4 5.2 0 .4 .1 .8 1.9 1.2 5.2 .4 1.3 .4 .9 .8 1.7 .8 1.3 .8 .9 .4 .1 .4 0 .4 -.1 .8 -.6 2.4 -2.3 7.2 -7.4 1.2 -.9 1.6 -.8 1.6 -.5 1.2 -.3 3.6 -.2 3.2 -.1 1.2 .3 1.6 .6 1.6 1.6 .4 .2 .4 -.1 .4 -.1 .4 -.3 .8 -1" stroke="#99afe5" stroke-width="0.33"/>
<path d="M146.8 169.3l10.8 .1 .4 .8 .4 .1 .4 .3 .8 1.7 .8 2.7 .4 .8 .8 .6 2.8 .7 2.4 1 .8 .2 .8 0 2 -.5 1.2 -.1 2.4 .8 1.6 .1 1.2 -.1 2.4 -.6 2.4 -.3 .8 -.2 .8 -.4 .8 -.7 .8 -1 1.6 -2.4 2 -1.8 .4 -.3 .8 -.1 .4 -1.1 5.6 -.2 18.8 -.1 2 .2 1.6 .6 1.6 .8 .4 .1 .4 -.1 .4 -.2 1.6 -1 1.2 -.3 1.2 -.1 7.2 0 .8 .1 1.6 .3 4 1.5 1.2 .2 .8 -.2 1.2 -.5 1.2 -.2 5.6 -.8 4.4 -.3 5.2 -.1 .8 .2 .8 .4 .4 .3 3.6 4 .8 .6 .4 0 .4 -.2 .4 -.3 1.6 -2.2 1.2 -1.4 .8 -.7 .4 -.2 1.2 -.4 .8 -.1 5.2 0 .4 .1 .8 1.9 1.2 5.2 .4 1.4 .4 .9 .8 1.6 .8 1.4 .8 .8 .4 .2 .4 0 .4 -.1 .8 -.6 2.4 -2.3 7.2 -7.5 1.2 -.9 1.6 -.8 1.6 -.5 1.2 -.3 3.6 -.2 3.2 -.1 1.2 .3 1.6 .6 1.6 1.6 .4 .2 .4 -.1 .4 -.1 .4 -.3 .8 -1" stroke="#93abe3" stroke-width="0.33"/>
<path d="M146.8 169.3l10.8 .2 .4 .9 .4 0 .4 .4 .4 .8 .4 1.1 .8 3 .4 .9 .4 .4 .4 .2 2.4 .7 2.4 1.2 .8 .3 .8 0 2.4 -.5 .8 -.1 .8 .1 1.6 .7 1.6 .2 1.2 -.2 2.8 -.6 2 -.2 .8 -.2 .8 -.4 .8 -.6 .8 -1 .8 -1.2 1.2 -2.1 2 -2 .4 -.3 .8 -.2 .4 -1.2 5.6 -.2 18.8 -.1 2 .3 1.6 .6 1.6 .9 .4 .1 .4 -.1 .4 -.2 1.6 -1.2 1.2 -.3 1.2 -.1 7.2 0 .8 .1 1.6 .4 4 1.6 .8 .2 .4 0 .8 -.2 1.2 -.5 1.2 -.3 5.6 -.9 4.4 -.3 5.2 -.1 .8 .2 .8 .4 .4 .4 3.6 4.5 .8 .6 .4 .1 .4 -.2 .4 -.4 1.6 -2.4 1.2 -1.6 .8 -.9 .4 -.2 1.2 -.4 .8 -.1 5.2 0 .4 .1 .8 1.9 1.2 5.2 .4 1.4 .4 .9 .8 1.7 .8 1.3 .8 .9 .4 .2 .4 0 .4 -.2 .8 -.5 2.4 -2.4 7.2 -7.5 1.2 -.9 1.6 -.8 1.6 -.5 1.2 -.3 3.6 -.2 3.2 -.1 1.2 .3 1.6 .6 1.6 1.6 .4 .2 .4 0 .4 -.2 .4 -.3 .8 -1" stroke="#8ea7e1" stroke-width="0.33"/>
<path d="M146.8 169.3l10.8 .2 .4 1 .4 0 .4 .4 .4 .9 .4 1.3 .8 3.3 .4 1 .4 .4 .4 .2 2.4 1 2.4 1.2 .8 .3 .8 0 2 -.5 1.2 -.1 .8 .2 1.6 .7 1.2 .1 1.2 -.1 2.8 -.6 2.4 -.2 .8 -.3 .8 -.5 .8 -.8 .8 -1.1 .8 -1.2 1.2 -2.3 2 -2.3 .4 -.3 .8 -.2 .4 -1.4 5.6 -.2 18.8 -.1 2 .3 1.6 .7 1.6 1 .4 .1 .4 -.1 .4 -.2 1.6 -1.3 1.2 -.4 1.2 -.1 7.2 0 .8 .1 1.6 .4 4 1.9 .8 .2 .4 0 .8 -.3 1.2 -.5 1.2 -.3 5.6 -1 4.4 -.4 5.2 -.1 .8 .2 .8 .5 .4 .4 3.6 5.1 .4 .4 .4 .2 .4 .1 .4 -.2 .4 -.5 1.6 -2.6 1.2 -1.8 .8 -1 .4 -.2 1.2 -.4 .8 -.2 5.2 0 .4 .1 .8 1.9 1.2 5.3 .4 1.4 .4 .9 .8 1.6 .8 1.4 .8 .9 .4 .2 .4 0 .4 -.2 .8 -.6 2.4 -2.3 7.2 -7.6 1.2 -.9 1.6 -.7 1.6 -.6 1.2 -.3 3.6 -.2 3.2 -.1 1.2 .3 1.6 .6 1.6 1.6 .4 .2 .4 0 .4 -.2 .4 -.3 .8 -.9" stroke="#88a2de" stroke-width="0.33"/>
<path d="M146.8 169.3l6 0 4.8 .2 .4 1.1 .4 .1 .4 .4 .4 1 .4 1.4 .8 3.6 .4 1 .4 .4 4.4 2.4 1.2 .6 .8 .1 2 -.5 1.2 -.2 .8 .2 2 .9 .8 .1 1.2 -.1 1.6 -.5 1.2 -.2 2.4 -.1 .8 -.2 .8 -.5 .8 -.7 .8 -1.1 1.2 -2 1.2 -2.5 2 -2.5 .4 -.3 .8 -.2 .4 -1.5 .4 -.1 6.8 -.2 17.2 -.1 2 .3 1.6 .8 1.6 1.1 .4 .1 .4 -.1 .4 -.2 1.6 -1.5 1.2 -.3 1.2 -.2 7.2 0 .8 .1 1.6 .5 4 2 .8 .2 .4 0 .8 -.2 1.2 -.6 1.2 -.4 5.6 -1.1 4.4 -.3 5.2 -.2 .8 .2 .8 .6 .4 .4 3.6 5.6 .4 .4 .4 .3 .4 .1 .4 -.3 .4 -.5 1.6 -2.9 1.2 -1.9 .8 -1.1 .4 -.3 1.2 -.4 .8 -.2 5.2 0 .4 .1 .8 1.9 1.2 5.3 .4 1.4 .4 .9 .8 1.7 .8 1.4 .8 .8 .4 .2 .4 0 .4 -.1 .8 -.6 2.4 -2.3 7.2 -7.7 1.2 -.9 1.6 -.7 1.6 -.6 1.2 -.3 3.6 -.2 3.2 -.1 1.2 .3 1.6 .6 1.6 1.6 .4 .2 .4 0 .4 -.2 .4 -.3 .8 -.9" stroke="#829ddc" stroke-width="0.33"/>
<path d="M146.8 169.3l6 0 4.8 .2 .4 1.2 .4 .1 .4 .5 .4 1.1 .4 1.4 .8 3.9 .4 1.2 .4 .4 3.6 2.3 1.6 .8 .8 .2 .4 0 2 -.5 1.2 -.1 .8 .2 1.6 .9 .8 .1 1.2 -.1 2.4 -.6 3.2 -.1 .8 -.3 .8 -.6 .8 -.9 .8 -1.2 1.2 -2.1 1.2 -2.6 2 -2.8 .4 -.3 .8 -.3 .4 -1.6 .4 0 2.8 -.2 4 -.1 17.2 -.1 2 .4 1.6 .9 1.6 1.1 .4 .1 .4 -.1 .4 -.3 1.6 -1.5 1.2 -.4 1.2 -.2 7.2 0 .8 .1 1.6 .6 4 2.1 .8 .3 .4 0 .8 -.3 1.2 -.6 1.2 -.4 2 -.5 3.6 -.8 4.4 -.3 5.2 -.2 .8 .3 .8 .5 .4 .5 3.6 6.1 .4 .5 .4 .3 .4 0 .4 -.2 .4 -.5 1.6 -3.2 1.2 -2.1 .8 -1.2 .4 -.3 1.2 -.5 .8 -.2 5.2 0 .4 .1 .8 1.9 1.2 5.4 .4 1.4 .4 .9 .8 1.6 .8 1.4 .8 .9 .4 .2 .4 0 .4 -.1 .8 -.6 2.4 -2.4 7.2 -7.7 1.2 -.9 1.6 -.7 1.6 -.6 1.2 -.3 3.6 -.2 3.2 -.1 1.2 .3 1.6 .6 1.6 1.6 .4 .2 .4 0 .4 -.2 .4 -.3 .8 -.9" stroke="#7c98da" stroke-width="0.33"/>
<path d="M146.8 169.3l6 0 4.8 .2 .4 1.3 .4 .1 .4 .5 .8 2.8 .8 4.2 .4 1.2 .4 .5 3.2 2.4 .8 .4 1.2 .6 .8 .1 .4 0 1.6 -.4 1.2 -.1 1.2 .3 1.6 .9 .8 .1 .8 -.1 2.4 -.7 3.2 0 .4 -.1 .4 -.1 .8 -.6 .8 -.8 .8 -1.2 1.6 -2.8 1.2 -2.9 .4 -.6 1.6 -2.3 .4 -.4 .8 -.3 .4 -1.8 .4 0 2.8 -.2 4 -.1 17.2 -.1 2 .4 1.6 1 1.6 1.2 .4 .1 .4 -.1 .4 -.3 1.6 -1.7 1.2 -.4 1.2 -.2 7.2 0 .8 .1 1.6 .6 4 2.4 .8 .2 .4 0 .8 -.3 1.2 -.7 1.2 -.4 2 -.5 3.6 -.8 1.6 -.2 2.8 -.2 5.2 -.2 .4 .1 .4 .2 .8 .6 .4 .5 3.6 6.6 .4 .5 .4 .4 .4 0 .4 -.3 .4 -.5 1.6 -3.5 1.2 -2.3 .8 -1.2 .4 -.3 1.2 -.6 .8 -.2 5.2 0 .4 .1 .8 2 1.2 5.3 .4 1.4 .4 .9 .8 1.7 .8 1.4 .8 .9 .4 .2 .4 0 .4 -.2 .8 -.6 2.4 -2.3 7.2 -7.8 1.2 -.9 1.6 -.7 1.6 -.6 1.2 -.3 3.6 -.2 3.2 -.1 1.2 .3 1.6 .6 1.6 1.7 .4 .1 .4 0 .4 -.2 .4 -.3 .8 -.9" stroke="#7593d8" stroke-width="0.33"/>
<path d="M146.8 169.3l6 .1 4.8 .1 .4 1.4 .4 .1 .4 .6 .4 1.3 .4 1.7 .8 4.5 .4 1.3 .4 .5 2.8 2.4 .8 .5 1.2 .6 1.2 .2 2 -.4 1.2 0 1.2 .4 1.2 .7 .8 .2 .8 0 2 -.7 .8 -.1 3.2 .1 .8 -.3 .8 -.7 1.2 -1.5 1.6 -2.9 .4 -.8 1.2 -3 .4 -.7 1.6 -2.5 .4 -.4 .8 -.3 .4 -1.9 .4 -.1 2.8 -.2 4 -.1 17.2 -.1 1.2 .2 .8 .2 1.6 1.1 1.6 1.3 .4 .1 .4 -.1 .4 -.3 1.6 -1.9 1.2 -.4 1.2 -.2 7.2 0 .8 .1 1.6 .7 4 2.5 .8 .3 .4 0 .8 -.3 1.2 -.8 1.2 -.4 2 -.6 3.6 -.9 1.6 -.2 2.8 -.2 5.2 -.2 .4 .1 .4 .2 .8 .7 .4 .5 3.6 7.1 .4 .6 .4 .3 .4 .1 .4 -.3 .4 -.6 1.6 -3.7 1.2 -2.5 .8 -1.4 .4 -.3 1.2 -.6 .8 -.2 5.2 0 .4 .1 .8 2 1.2 5.3 .4 1.5 .4 .9 .8 1.7 .8 1.3 .8 .9 .4 .2 .4 0 .4 -.1 .8 -.6 2.4 -2.4 7.2 -7.7 1.2 -1 1.6 -.7 1.6 -.6 1.2 -.3 3.6 -.2 3.2 -.1 1.2 .3 1.6 .6 1.6 1.7 .4 .2 .4 -.1 .4 -.1 .4 -.3 .8 -1" stroke="#6f8dd5" stroke-width="0.33"/>
<path d="M146.8 169.3l6 .1 4.8 .2 .4 1.5 .4 .1 .4 .6 .4 1.3 .4 1.9 .8 4.8 .4 1.4 .4 .5 2.4 2.4 .8 .6 .8 .4 1.2 .4 .8 .1 1.6 -.3 1.2 0 1.6 .5 1.2 .7 .8 .2 .8 -.2 1.6 -.5 .8 -.2 .8 0 2 .2 .8 0 .4 -.2 .8 -.6 1.2 -1.4 .8 -1.4 1.6 -3.1 1.2 -3.2 1.6 -2.9 .8 -1 .8 -.4 .4 -2 2.4 -.2 3.2 -.1 18.8 -.2 1.2 .2 .8 .3 1.6 1.1 1.6 1.4 .4 .1 .4 -.1 .4 -.3 1.6 -2 1.2 -.5 1.2 -.2 7.2 0 .8 .1 1.6 .7 4 2.7 .8 .4 .4 0 .8 -.4 1.2 -.8 1.2 -.5 2 -.6 3.6 -.9 1.6 -.3 2.8 -.2 5.2 -.2 .4 .1 .4 .2 .8 .7 .4 .6 3.6 7.6 .4 .6 .4 .4 .4 .1 .4 -.3 .4 -.7 1.6 -4 1.2 -2.6 .8 -1.5 .4 -.3 1.2 -.7 .8 -.2 5.2 0 .4 .1 .8 2 1.2 5.4 .4 1.4 .4 .9 .8 1.7 .8 1.4 .8 .9 .4 .2 .4 0 .4 -.1 .8 -.6 2.4 -2.4 7.2 -7.8 1.2 -.9 1.6 -.8 1.6 -.6 1.2 -.3 3.6 -.2 3.2 -.1 1.2 .3 1.6 .6 1.6 1.7 .4 .2 .4 -.1 .4 -.1 .4 -.3 .8 -1" stroke="#6888d3" stroke-width="0.33"/>
<path d="M146.8 169.3l6 .1 4.8 .2 .4 1.6 .4 .1 .4 .6 .4 1.5 .4 2 .8 5.1 .4 1.4 .8 1.1 2 2.2 .8 .6 .8 .4 1.6 .3 .8 0 1.2 -.2 .8 0 1.6 .5 1.6 .9 .8 .1 2.4 -.8 .8 -.1 2.4 .3 .8 0 .8 -.3 .8 -.7 1.2 -1.6 2 -3.8 .4 -.8 1.2 -3.5 1.6 -3 .8 -1.1 .8 -.4 .4 -2.2 2.4 -.2 3.2 -.1 18.8 -.2 1.2 .2 .8 .3 1.6 1.2 1.6 1.5 .4 .1 .4 -.1 .4 -.3 1.6 -2.2 1.2 -.5 1.2 -.2 7.2 0 .8 .2 1.6 .7 2.4 1.6 1.6 1.3 .8 .3 .4 0 .8 -.3 1.2 -.9 1.2 -.6 2 -.6 3.6 -1 1.6 -.2 2.8 -.3 5.2 -.2 .4 .1 .4 .3 .8 .7 .4 .6 3.6 8.1 .4 .7 .4 .4 .4 .1 .4 -.4 .4 -.7 1.6 -4.2 1.2 -2.8 .8 -1.6 .4 -.4 1.2 -.6 .8 -.3 5.2 0 .4 .1 .8 2 1.2 5.4 .4 1.4 .4 1 .8 1.7 .8 1.4 .8 .9 .4 .2 .4 0 .4 -.2 .8 -.6 2.4 -2.4 7.2 -7.8 1.2 -.9 1.6 -.8 1.6 -.6 1.2 -.3 3.6 -.2 3.2 -.1 1.2 .3 1.6 .6 1.6 1.7 .4 .2 .4 0 .4 -.2 .4 -.3 .8 -1" stroke="#6182d0" stroke-width="0.33"/>
<path d="M146.8 169.3l6 .1 4.8 .2 .4 1.7 .4 .1 .4 .7 .4 1.5 .4 2.1 .8 5.5 .4 1.5 .4 .7 1.2 1.6 1.2 1.3 1.2 .8 .8 .2 1.2 .2 2 -.1 .8 .1 2 .7 1.2 .6 .4 .1 .4 0 2 -.8 .8 -.1 .8 0 1.6 .5 .8 0 .8 -.2 .8 -.6 .8 -1 .8 -1.3 2 -3.8 .4 -.9 1.2 -3.7 1.6 -3.3 .8 -1.1 .8 -.4 .4 -2.3 2.4 -.3 3.2 -.1 10 -.2 8.8 0 1.2 .2 .8 .3 1.6 1.3 1.6 1.6 .4 .1 .4 -.1 .4 -.4 1.6 -2.2 1.2 -.6 1.2 -.2 7.2 0 .8 .2 1.6 .7 2.4 1.8 1.6 1.3 .8 .4 .4 0 .8 -.4 1.2 -.9 1.2 -.6 2 -.7 3.6 -1 1.6 -.3 2.8 -.3 5.2 -.2 .4 .1 .4 .3 .8 .8 .4 .6 2 4.7 1.6 4 .4 .7 .4 .4 .4 .1 .4 -.4 .4 -.7 1.6 -4.6 1.2 -2.9 .8 -1.7 .4 -.4 1.2 -.7 .8 -.3 5.2 0 .4 .1 .8 2 1.2 5.4 .4 1.5 .4 .9 .8 1.7 .8 1.4 .8 .9 .4 .2 .4 .1 .4 -.2 .8 -.6 2.4 -2.4 7.2 -7.9 1.2 -.9 1.6 -.8 1.6 -.6 1.2 -.2 3.6 -.3 3.2 -.1 1.2 .3 1.6 .6 1.6 1.7 .4 .2 .4 0 .4 -.2 .4 -.3 .8 -1" stroke="#5a7ccd" stroke-width="0.33"/>
<path d="M146.8 169.3l6 .1 4.8 .2 .4 1.8 .4 .1 .4 .7 .4 1.7 .4 2.2 .8 5.7 .4 1.7 .4 .8 1.2 1.7 1.2 1.4 .4 .3 .8 .4 2 .3 1.6 0 .8 .1 3.2 1.3 .8 .2 .4 -.1 1.6 -.6 .8 -.2 .8 0 2 .6 .8 0 .8 -.3 .8 -.7 1.6 -2.4 2 -4 .8 -2.1 .8 -2.7 1.6 -3.5 .8 -1.3 .8 -.3 .4 -2.5 2.4 -.3 3.2 -.1 10 -.2 8.8 0 1.2 .3 .8 .3 1.6 1.3 1.6 1.7 .4 .1 .4 -.1 .4 -.4 1.6 -2.4 1.2 -.5 1.2 -.3 7.2 0 .8 .2 1.6 .8 2.4 1.9 1.6 1.4 .8 .3 .4 0 .8 -.4 1.2 -1 1.2 -.6 2 -.7 3.6 -1.1 1.6 -.3 2.8 -.3 5.2 -.2 .4 .1 .4 .3 .8 .8 .4 .7 2 4.9 1.6 4.3 .4 .7 .4 .5 .4 .1 .4 -.4 .4 -.8 1.6 -4.8 1.2 -3.1 .8 -1.8 .4 -.5 1.2 -.7 .8 -.3 5.2 0 .4 .1 .8 2 1.2 5.5 .4 1.4 .4 1 .8 1.7 .8 1.4 .8 .9 .4 .2 .4 0 .4 -.1 .8 -.6 2.4 -2.5 7.2 -7.9 1.2 -.9 1.6 -.8 1.6 -.6 1.2 -.2 3.6 -.3 3.2 -.1 1.2 .3 1.6 .6 1.6 1.7 .4 .2 .4 0 .4 -.2 .4 -.3 .8 -1" stroke="#5276cb" stroke-width="0.33"/>
<path d="M146.8 169.3l6 .1 4.8 .2 .4 1.9 .4 .2 .4 .7 .4 1.7 .4 2.4 .8 6 .4 1.8 .4 .8 1.2 2 1.2 1.3 .8 .5 .8 .2 3.6 .5 3.6 1.3 .8 .1 2 -.7 .8 -.1 .8 .1 1.6 .6 .8 0 .8 -.2 .4 -.3 .8 -.8 1.6 -2.5 2 -4 .8 -2.2 .8 -2.9 1.6 -3.8 .8 -1.3 .8 -.4 .4 -2.6 2.4 -.2 3.2 -.2 10 -.2 8.8 0 1.2 .3 .8 .3 1.6 1.4 1.6 1.8 .4 .1 .4 -.1 .4 -.4 1.6 -2.5 1.2 -.6 1.2 -.3 7.2 0 .8 .2 1.6 .8 2.4 2 1.6 1.5 .8 .4 .4 0 .8 -.4 1.2 -1.1 1.2 -.6 2 -.8 3.6 -1.1 1.6 -.3 2.8 -.3 5.2 -.3 .4 .1 .4 .3 .8 .9 .4 .7 2 5.2 1.6 4.5 .4 .8 .4 .4 .4 .1 .4 -.4 .4 -.8 1.6 -5 1.2 -3.4 .8 -1.8 .4 -.5 1.2 -.8 .8 -.3 5.2 0 .4 .1 .8 2 1.2 5.5 .4 1.5 .4 .9 .8 1.8 .8 1.4 .8 .9 .4 .2 .4 0 .4 -.2 .8 -.6 2.4 -2.4 7.2 -8 1.2 -.9 1.6 -.8 1.6 -.6 1.2 -.2 3.6 -.3 3.2 -.1 1.2 .3 1.6 .6 1.6 1.7 .4 .2 .4 0 .4 -.2 .4 -.3 .8 -1" stroke="#4b70c8" stroke-width="0.33"/>
<path d="M146.8 169.3l6 .1 4.8 .2 .4 2.1 .4 .1 .4 .8 .4 1.8 .4 2.5 .8 6.3 .4 2 .8 1.6 .8 1.3 1.2 1.4 .8 .4 4 .7 2.4 1 1.6 .4 .8 0 1.6 -.6 .8 -.1 .8 .1 1.6 .6 .8 .2 .4 -.1 .8 -.3 .8 -.7 1.2 -1.8 1.6 -2.9 1.6 -3.5 1.2 -4.4 1.2 -3.1 .8 -1.7 .4 -.6 .8 -.4 .4 -2.7 2.4 -.3 3.2 -.2 10 -.2 8.8 0 1.2 .3 .8 .3 1.6 1.5 1.6 1.9 .4 .2 .4 -.2 .4 -.4 1.6 -2.7 1.2 -.6 1.2 -.3 7.2 0 .8 .2 1.6 .9 2.4 2.1 1.6 1.5 .8 .4 .4 0 .8 -.4 1.2 -1.1 1.2 -.7 2 -.8 3.6 -1.2 1.6 -.3 2.8 -.3 2.8 -.2 2.4 -.1 .4 .1 .4 .3 .8 1 .4 .7 2 5.5 1.6 4.7 .4 .8 .4 .5 .4 .1 .4 -.4 .4 -.9 1.6 -5.3 1.2 -3.5 .8 -2 .4 -.4 1.2 -.9 .8 -.3 5.2 0 .4 .1 .8 2 1.2 5.6 .4 1.4 .4 1 .8 1.7 .8 1.4 .8 1 .4 .2 .4 0 .4 -.2 .8 -.6 2.4 -2.4 7.2 -8 1.2 -1 1.6 -.8 1.6 -.6 1.2 -.2 3.6 -.3 3.2 -.1 1.2 .3 1.6 .6 1.6 1.7 .4 .3 .4 -.1 .4 -.2 .4 -.3 .8 -1" stroke="#436ac5" stroke-width="0.33"/>
<path d="M146.8 169.3l6 .1 4.8 .3 .4 2.1 .4 .1 .4 .8 .4 1.9 .4 2.6 .8 6.8 .4 2 .8 1.8 .8 1.4 .4 .5 .8 .8 .8 .4 2 .2 2.4 .8 2 .8 1.6 .3 .8 0 1.6 -.5 .8 -.1 .8 .2 1.6 .7 .4 .1 .4 0 .8 -.3 .8 -.6 .4 -.5 1.2 -1.8 1.6 -2.9 .8 -1.6 .8 -2 1.2 -4.8 1.2 -3.2 .8 -1.8 .4 -.6 .8 -.4 .4 -2.9 2.4 -.3 3.2 -.2 10 -.1 8.8 -.1 1.2 .3 .8 .3 1.6 1.6 1.6 1.9 .4 .3 .4 -.2 .4 -.4 1.6 -2.8 1.2 -.7 1.2 -.3 7.2 0 .8 .2 1.6 .9 2.4 2.2 1.6 1.7 .8 .4 .4 0 .8 -.5 1.2 -1.1 1.2 -.7 2 -.9 3.6 -1.2 1.6 -.4 2.8 -.3 2.8 -.2 2.4 -.1 .4 .1 .4 .4 .8 1 .4 .8 2 5.7 1.6 4.9 .4 .9 .4 .5 .4 .1 .4 -.4 .4 -.9 1.6 -5.6 1.6 -4.9 .4 -.9 .4 -.5 .8 -.6 1.2 -.6 5.2 0 .4 .1 .8 2 1.2 5.6 .4 1.5 1.2 2.7 .8 1.4 .8 .9 .4 .2 .4 0 .4 -.1 .8 -.6 3.2 -3.4 6.4 -7.1 1.2 -1 2 -.9 1.6 -.6 1.2 -.2 3.6 -.2 2.8 -.1 1.2 .3 1.6 .6 1.6 1.8 .4 .2 .4 -.1 .4 -.1 .4 -.4 .8 -1" stroke="#3b64c2" stroke-width="0.33"/>
<path d="M146.8 169.3l6 .1 4.8 .3 .4 2.2 .4 .1 .4 .9 .4 2 .4 2.7 .8 7.1 .4 2.1 1.2 2.8 .4 .7 .8 .9 .8 .5 1.6 .2 .8 .2 4 1.7 2.4 .2 .8 -.1 .8 -.3 .8 -.1 .8 .2 1.6 .7 .8 .2 .4 0 .8 -.4 .8 -.7 .4 -.5 2 -3.3 1.2 -2.3 1.2 -2.9 1.2 -5.1 1.2 -3.4 .8 -1.9 .4 -.6 .8 -.5 .4 -3 2.4 -.3 3.2 -.1 10 -.2 8.8 -.1 1.2 .3 .8 .4 1.6 1.6 1.6 2 .4 .3 .4 -.2 .4 -.5 1.6 -2.9 1.2 -.7 1.2 -.3 7.2 0 .8 .2 1.6 1 2.4 2.3 1.6 1.7 .8 .5 .4 0 .8 -.5 1.2 -1.2 1.2 -.8 2 -.9 3.6 -1.3 1.6 -.4 2.8 -.3 2.8 -.2 2.4 -.1 .4 .1 .4 .4 .8 1 .4 .9 2 6 1.6 5.1 .4 .9 .4 .6 .4 .1 .4 -.5 .4 -.9 1.6 -5.9 1.6 -5 .4 -1 .4 -.5 .8 -.7 .8 -.4 .4 -.2 5.2 0 .4 .1 .8 2 1.2 5.6 .4 1.5 1.2 2.7 .8 1.5 .8 .9 .4 .2 .4 0 .4 -.1 .8 -.7 3.2 -3.3 6.4 -7.2 1.2 -1 2 -.9 1.6 -.6 1.2 -.2 3.6 -.2 2.8 -.1 1.2 .3 1.6 .6 1.6 1.8 .4 .2 .4 -.1 .4 -.1 .4 -.3 .8 -1.1" stroke="#335dbf" stroke-width="0.33"/>
<path d="M146.8 169.3l6 .1 4.8 .3 .4 2.3 .4 .2 .4 .9 .4 2 .4 2.9 .8 7.4 .4 2.3 1.2 3 .4 .6 .8 .9 .8 .4 2 .3 2 1.1 2 .9 .8 .1 .8 0 1.2 0 2 -.4 .8 .2 2 .9 .8 .1 .4 -.1 .8 -.5 1.2 -1.3 2 -3.2 1.2 -2.3 1.2 -3.2 1.2 -5.3 1.2 -3.6 .8 -1.9 .4 -.7 .8 -.5 .4 -3.2 2.4 -.3 3.2 -.1 10 -.2 8.8 -.1 1.2 .3 .8 .4 1.6 1.7 1.6 2.1 .4 .3 .4 -.2 .4 -.5 1.6 -3 1.2 -.8 1.2 -.3 7.2 0 .8 .2 1.6 1.1 2.4 2.4 1.6 1.7 .8 .5 .4 0 .8 -.5 1.2 -1.3 1.2 -.7 2 -1 3.6 -1.4 1.6 -.3 2.8 -.4 2.8 -.2 2.4 -.1 .4 .1 .4 .4 .8 1.1 .4 .9 2 6.2 1.6 5.4 .4 1 .4 .6 .4 .1 .4 -.5 .4 -1 1.6 -6.1 1.6 -5.3 .4 -1 .4 -.6 .8 -.6 .8 -.5 .4 -.2 5.2 0 .4 .1 .8 2.1 1.2 5.6 .4 1.5 1.2 2.7 .8 1.4 .8 1 .4 .2 .4 0 .4 -.2 .8 -.6 3.2 -3.4 6.4 -7.2 1.2 -1 2 -.9 1.6 -.6 1.2 -.2 3.6 -.2 2.8 -.1 1.2 .3 1.6 .7 1.6 1.7 .4 .2 .4 0 .4 -.2 .4 -.3 .8 -1" stroke="#2b57bc" stroke-width="0.33"/>
<path d="M146.8 169.3l6 .1 4.8 .3 .4 2.4 .4 .2 .4 .9 .4 2.2 .4 3 .8 7.7 .4 2.5 .4 1.2 .8 1.9 .8 1.1 .8 .5 .4 .2 1.6 .2 .4 .1 2 1.4 1.6 .8 .8 .2 1.2 -.2 1.6 -.1 .8 -.1 .8 0 .8 .2 1.6 .8 .8 .2 .4 0 .8 -.5 1.2 -1.2 2.4 -3.6 1.2 -2.3 .8 -2.1 .4 -1.3 1.2 -5.7 1.2 -3.7 .8 -2 .4 -.7 .8 -.5 .4 -3.3 2.4 -.4 3.2 -.1 10 -.2 8.8 -.1 1.2 .3 .8 .4 1.6 1.8 1.6 2.2 .4 .3 .4 -.2 .4 -.5 1.6 -3.2 1.2 -.8 1.2 -.3 7.2 0 .8 .2 1.6 1.1 2.4 2.5 1.6 1.9 .8 .5 .4 0 .8 -.6 1.2 -1.3 1.2 -.8 2 -1 3.6 -1.4 1.6 -.4 2.8 -.4 2.8 -.2 2.4 -.1 .4 .1 .4 .4 .8 1.2 .4 .9 2 6.5 1.6 5.7 .4 .9 .4 .7 .4 .1 .4 -.5 .4 -1.1 1.6 -6.4 1.6 -5.5 .4 -1 .4 -.6 .8 -.7 .8 -.5 .4 -.2 5.2 0 .4 .1 .8 2.1 1.2 5.6 .4 1.5 1.2 2.7 .8 1.5 .8 .9 .4 .2 .4 0 .4 -.1 .8 -.6 3.2 -3.4 6.4 -7.3 1.2 -1 2 -.9 1.6 -.6 1.2 -.2 3.6 -.2 2.8 -.1 1.2 .3 1.6 .7 1.6 1.7 .4 .2 .4 0 .4 -.2 .4 -.3 .8 -1" stroke="#2350b9" stroke-width="0.7"/>
<path d="M146.8 169.3l.8 2.4 .8 4.2 .4 1 .4 -.6 1.6 -4.8 .4 -.5 .4 .2 .8 .9 .8 1.3 .4 .3 .4 -.5 .8 -1.9 .8 -1.6 .4 -.3 .4 .2 .4 .6 .8 1.3 1.2 2.4 .4 .4 .4 -.2 1.2 -2.5 .8 -.9 .8 -.7 .4 -.2 .4 -.1 4 -.3 8.8 -.1 2.8 .1 2.4 -.1 11.2 0 1.6 .1 2.4 .3 2 -.3 1.6 -.1 12.8 0 1.6 .1 1.6 .3 .8 .3 2.8 1.2 .8 .2 .4 -.1 1.6 -.8 2 -.7 2 -.3 2 -.2 4.4 .1 .8 .1 2.8 1 1.6 .3 .8 -.1 2.8 -.6 2.8 -.4 6.8 -.3 7.6 -.1 .8 .1 .8 .2 3.2 1.2 .8 .2 .8 -.2 2.8 -1 1.2 -.4 1.6 -.1 2 0 1.2 .1 2.8 -.1 .4 .1 .8 1.6 1.2 4.4 .4 1.1 .4 .8 .8 1.3 .8 1.2 .8 .7 .4 .2 .4 0 .4 -.2 .8 -.4 2.4 -2 7.2 -6.3 1.2 -.8 1.6 -.6 1.6 -.4 1.2 -.3 3.6 -.2 3.2 0 1.2 .2 1.6 .5 1.6 1.4 .4 .1 .8 -.1 .4 -.3 .8 -.8" stroke="#f7dcd2" stroke-width="0.3"/>
<path d="M146.8 169.3l.8 2.4 .8 4.3 .4 .9 .4 -.6 1.6 -4.8 .4 -.5 .4 .2 .8 .9 .8 1.3 .4 .3 .4 -.5 .8 -1.9 .8 -1.6 .4 -.3 .4 .2 .4 .6 .8 1.3 1.2 2.4 .4 .4 .4 -.2 1.2 -2.5 .8 -.9 .8 -.7 .4 -.2 .4 -.1 4 -.3 8.8 -.1 2.8 .3 2.4 -.3 11.2 0 1.6 .2 2 .5 .4 0 2 -.5 1.6 -.2 12.8 0 1.6 .3 1.6 .6 .8 .5 2.8 2.4 .4 .2 .4 .1 .4 -.1 1.6 -1.5 1.2 -.9 .8 -.5 2 -.7 2 -.4 3.2 0 1.2 .1 .8 .4 2.8 1.8 .8 .5 .8 .2 .8 -.2 2.8 -1.3 1.6 -.5 1.2 -.2 3.2 -.3 3.6 -.3 7.6 -.1 .8 .1 .8 .4 .8 .5 2.4 1.8 .8 .4 .4 0 .4 -.2 2.8 -2.1 1.2 -.7 1.6 -.3 2 .1 1.2 .2 1.2 -.2 1.6 -.1 .4 .1 .8 1.6 1.2 4.4 .4 1.2 .4 .7 .8 1.4 .8 1.2 .8 .7 .4 .1 .4 0 .4 -.1 .8 -.5 2.4 -1.9 7.2 -6.4 1.2 -.7 1.6 -.7 1.6 -.4 1.2 -.2 3.6 -.3 3.2 0 1.2 .2 1.6 .5 1.6 1.4 .4 .1 .8 -.1 .4 -.3 .8 -.8" stroke="#f6dacf" stroke-width="0.3" stroke-dasharray="0.9 0.5"/>
<path d="M146.8 169.3l.8 2.4 .8 4.3 .4 1 .4 -.6 1.6 -4.9 .4 -.5 .4 .2 .8 1 .8 1.2 .4 .3 .4 -.4 .8 -1.9 .8 -1.7 .4 -.3 .4 .2 .4 .6 .8 1.3 1.2 2.5 .4 .4 .4 -.2 1.2 -2.5 1.2 -1.4 .8 -.5 1.6 -.2 4.4 -.3 7.2 0 2.8 .4 2.4 -.4 10.8 0 2 .2 2 .8 .4 .1 2 -.8 1.6 -.3 12.8 .1 1.6 .3 1.6 .9 .8 .8 2.8 3.6 .4 .4 .4 .1 .4 -.2 .4 -.4 1.2 -1.9 1.2 -1.4 .8 -.7 2 -1 2 -.5 3.2 -.1 1.2 .2 .8 .5 2.8 2.8 .8 .6 .8 .4 .4 -.1 .4 -.2 2 -1.5 .8 -.4 1.6 -.7 1.2 -.4 3.2 -.5 3.6 -.3 6 -.3 1.6 0 .8 .2 .8 .6 .8 .7 2.4 2.8 .4 .4 .4 .2 .4 -.1 .4 -.3 1.2 -1.2 1.6 -2 1.2 -1 .8 -.2 .8 -.2 2 .1 1.2 .3 1.2 -.3 1.6 -.1 .4 .1 .8 1.6 1.2 4.5 .4 1.1 .4 .8 .8 1.4 .8 1.1 .8 .8 .4 .1 .4 0 .4 -.1 .8 -.5 2.4 -1.9 7.2 -6.5 1.2 -.7 1.6 -.6 1.6 -.5 1.2 -.2 3.6 -.3 3.2 0 1.2 .2 1.6 .5 1.6 1.4 .4 .2 .8 -.2 .4 -.3 .8 -.8" stroke="#f5d7cb" stroke-width="0.3"/>
<path d="M146.8 169.3l.8 2.5 .8 4.3 .4 1 .4 -.7 1.6 -4.9 .4 -.5 .4 .2 .8 1 .8 1.3 .4 .3 .4 -.5 .8 -1.9 .8 -1.7 .4 -.3 .4 .2 .4 .6 .8 1.3 1.2 2.5 .4 .4 .4 -.2 1.2 -2.5 1.2 -1.4 .8 -.5 1.6 -.2 4.4 -.3 7.2 .1 1.2 .1 1.2 .4 .4 0 2.4 -.5 10.8 -.1 2 .3 1.2 .6 .8 .5 .4 0 1.2 -.7 .8 -.4 1.6 -.3 12 0 .8 .1 1.2 .2 .8 .5 1.2 1 .8 1 1.6 2.6 1.2 2.2 .4 .5 .4 .2 .4 -.3 .4 -.6 1.2 -2.5 1.2 -1.8 .8 -.9 1.2 -1 .8 -.5 .8 -.3 1.2 -.3 3.2 -.1 1.2 .3 .8 .7 2.8 3.7 .8 .8 .4 .3 .4 .2 .4 -.1 .4 -.3 2 -1.9 .8 -.7 1.6 -.9 1.2 -.5 3.2 -.6 3.6 -.5 6 -.4 1.6 .1 .8 .2 .8 .8 .8 1 1.2 2 1.2 1.7 .4 .5 .4 .2 .4 -.1 .4 -.3 1.2 -1.7 1.6 -2.6 1.2 -1.3 .8 -.4 .8 -.1 2 0 .4 .1 .8 .4 .4 -.1 .8 -.3 1.6 -.2 .4 .1 .8 1.6 1.2 4.5 .4 1.2 .4 .8 .8 1.4 .8 1.1 .8 .8 .4 .1 .4 0 .4 -.1 .8 -.5 2.4 -2 7.2 -6.4 1.2 -.8 1.6 -.6 1.6 -.5 1.2 -.2 3.6 -.3 3.2 0 1.2 .2 1.6 .5 1.6 1.4 .4 .2 .8 -.2 .4 -.2 .8 -.8" stroke="#f3d4c8" stroke-width="0.3" stroke-dasharray="0.9 0.5"/>
<path d="M146.8 169.3l.8 2.5 .8 4.3 .4 1 .4 -.6 1.6 -4.9 .4 -.5 .4 .2 .8 .9 .8 1.3 .4 .3 .4 -.5 .8 -1.9 .8 -1.6 .4 -.4 .4 .2 .4 .6 .8 1.4 1.2 2.4 .4 .5 .4 -.2 1.2 -2.6 1.2 -1.4 .8 -.5 1.6 -.2 4.4 -.3 7.2 .1 1.2 .2 1.2 .4 .4 0 1.2 -.4 1.2 -.2 10.8 -.1 .8 .1 1.2 .3 1.2 .7 .8 .6 .4 .1 1.2 -.9 .8 -.5 1.6 -.3 12.4 -.1 1.2 .3 .8 .4 .8 .6 .8 .9 .8 1.3 1.6 3.3 1.2 2.7 .4 .6 .4 .2 .4 -.3 .4 -.7 1.2 -3.2 1.2 -2.2 .8 -1.2 1.2 -1.2 .8 -.6 .8 -.4 1.2 -.4 3.2 -.1 1.2 .4 .4 .3 .4 .5 2.8 4.7 .8 1 .4 .4 .4 .2 .4 -.1 .4 -.4 2 -2.4 .8 -.8 1.6 -1.2 1.2 -.6 3.2 -.8 3.6 -.6 6 -.5 1.6 .1 .8 .3 .8 1 .8 1.2 1.2 2.5 1.2 2.2 .4 .6 .4 .3 .4 -.1 .4 -.5 1.2 -2.1 1.6 -3.2 1.2 -1.7 .8 -.4 .8 -.2 2 .1 .4 .1 .8 .4 .4 0 .8 -.5 1.6 -.2 .4 .1 .8 1.7 1.2 4.5 .4 1.2 .4 .7 .8 1.4 .8 1.2 .8 .8 .4 .1 .4 0 .4 -.1 .8 -.5 2.4 -2 7.2 -6.5 1.2 -.8 1.6 -.6 1.6 -.5 1.2 -.2 3.6 -.3 3.2 0 1.2 .2 1.6 .5 1.6 1.4 .4 .2 .8 -.2 .4 -.2 .8 -.8" stroke="#f2d0c3" stroke-width="0.3"/>
<path d="M146.8 169.3l.8 2.5 .8 4.4 .4 1 .4 -.6 1.6 -5 .4 -.5 .4 .2 .8 .9 .8 1.3 .4 .3 .4 -.4 .8 -2 .8 -1.6 .4 -.4 .4 .2 .4 .6 .8 1.4 1.2 2.5 .4 .4 .4 -.2 1.2 -2.6 1.2 -1.4 .8 -.5 1.6 -.2 4.4 -.3 7.2 .1 1.2 .2 1.2 .5 .4 0 1.2 -.4 1.2 -.3 11.2 -.1 1.6 .5 1.2 .8 .8 .7 .4 .1 1.2 -1 .8 -.6 1.6 -.4 12.4 -.1 1.2 .3 .8 .5 .8 .8 .8 1 .8 1.6 1.6 3.9 1.2 3.3 .4 .7 .4 .3 .4 -.4 .4 -.9 1.2 -3.7 1.2 -2.7 .8 -1.4 1.2 -1.5 .8 -.7 .8 -.5 .8 -.4 .8 -.2 2.8 0 1.2 .4 .4 .4 .4 .7 1.2 2.2 1.2 2.7 .4 .6 .8 1.3 .4 .5 .4 .2 .4 -.1 .4 -.5 2 -2.9 .8 -1 1.6 -1.4 1.2 -.6 3.2 -1.1 3.6 -.7 6 -.5 .8 -.1 .8 .1 .8 .4 .8 1.2 .8 1.5 1.2 2.9 1.2 2.6 .4 .8 .4 .3 .4 -.1 .4 -.6 1.2 -2.5 1.6 -3.8 1.2 -2 .8 -.5 .8 -.3 2 .1 .4 .1 .8 .6 .4 -.1 .8 -.6 1.6 -.2 .4 .1 .8 1.7 1.2 4.5 .4 1.2 1.2 2.2 .8 1.2 .8 .7 .4 .2 .4 0 .4 -.1 .8 -.5 3.2 -2.7 6.4 -5.9 1.2 -.8 2 -.7 1.6 -.5 1.2 -.2 3.6 -.2 2.8 0 1.2 .2 1.6 .6 1.6 1.4 .4 .1 .8 -.1 .4 -.3 .8 -.8" stroke="#f0ccbf" stroke-width="0.3" stroke-dasharray="0.9 0.5"/>
<path d="M146.8 169.3l.8 2.5 .8 4.4 .4 1 .4 -.6 1.6 -5 .4 -.5 .4 .2 .8 1 .8 1.3 .4 .3 .4 -.5 .8 -2 .8 -1.6 .4 -.4 .4 .2 .4 .6 .8 1.4 1.2 2.5 .4 .4 .4 -.1 1.2 -2.7 1.2 -1.4 .8 -.5 1.6 -.2 4.4 -.3 7.2 .1 1.2 .3 1.2 .6 .4 0 1.2 -.6 1.2 -.3 11.2 0 1.6 .4 1.2 1 .8 .9 .4 .1 .4 -.3 .8 -1 .8 -.6 1.6 -.5 12.4 -.1 1.2 .4 .8 .5 .8 1 .8 1.2 .8 1.8 1.6 4.6 1.2 3.8 .4 .9 .4 .3 .4 -.5 .4 -1 1.2 -4.4 1.2 -3.1 .8 -1.7 1.2 -1.6 .8 -.9 .8 -.6 .8 -.4 .8 -.3 2.8 0 .4 .1 .8 .4 .4 .5 .4 .7 1.2 2.6 1.2 3.1 .4 .8 .8 1.5 .4 .5 .4 .3 .4 -.1 .4 -.6 2 -3.4 .8 -1.1 1.6 -1.6 1.2 -.8 1.2 -.5 2 -.7 3.6 -.8 6 -.7 .8 -.1 .8 .2 .8 .4 .8 1.3 .8 1.8 1.2 3.5 1.2 3 .4 .9 .4 .4 .4 -.2 .4 -.6 1.2 -3 1.6 -4.4 1.2 -2.4 .8 -.6 .8 -.3 2 .2 .4 .1 .8 .6 .4 -.1 .8 -.6 1.6 -.3 .4 .1 .8 1.7 1.2 4.6 .4 1.2 1.2 2.2 .8 1.2 .8 .7 .4 .2 .4 0 .4 -.1 .8 -.5 3.2 -2.8 6.4 -5.9 1.2 -.7 2 -.8 1.6 -.5 1.2 -.1 3.6 -.3 2.8 0 1.2 .2 1.6 .6 1.6 1.4 .4 .2 .8 -.2 .4 -.3 .8 -.8" stroke="#eec8ba" stroke-width="0.3"/>
<path d="M146.8 169.3l.8 2.5 .8 4.5 .4 1 .4 -.6 1.6 -5.1 .4 -.5 .4 .2 .8 1 .8 1.3 .4 .3 .4 -.5 .8 -2 .8 -1.6 .4 -.4 .4 .3 .4 .5 .8 1.4 1.2 2.6 .4 .4 .4 -.2 1.2 -2.6 1.2 -1.5 .8 -.5 1.6 -.2 4.4 -.3 7.2 .1 1.2 .4 1.2 .6 .4 0 1.2 -.6 1.2 -.4 11.2 0 .8 .2 .8 .3 1.2 1.1 .8 1 .4 .1 .4 -.3 .8 -1.1 .8 -.7 .8 -.4 .8 -.2 12.4 -.1 1.2 .5 .8 .6 .8 1 .8 1.4 .8 2.1 1.6 5.2 1.2 4.4 .4 1 .4 .3 .4 -.5 .4 -1.2 1.2 -5 1.2 -3.6 .8 -1.9 1.2 -1.8 .8 -1 .8 -.7 .8 -.5 .8 -.3 2.8 0 .4 .1 .8 .5 .4 .5 .4 .8 1.2 3 1.2 3.6 .4 .9 .8 1.6 .4 .7 .4 .3 .4 -.2 .4 -.6 2 -3.9 .8 -1.3 1.6 -1.8 1.2 -.9 1.2 -.6 2 -.8 3.6 -.9 6 -.8 .8 0 .8 .1 .4 .2 .4 .3 .8 1.5 .8 2.1 1.2 3.9 1.2 3.5 .4 1 .4 .4 .4 -.1 .4 -.8 1.2 -3.4 1.2 -3.9 1.2 -3.1 .4 -.7 .4 -.4 .8 -.6 .4 -.1 .8 0 1.2 .2 .4 .1 .8 .8 .4 -.1 .8 -.8 1.2 -.2 .4 -.1 .4 .2 .8 1.6 1.2 4.6 .4 1.2 1.2 2.3 .8 1.2 .8 .7 .4 .2 .4 0 .4 -.1 .8 -.5 3.2 -2.8 6.4 -5.9 1.2 -.8 2 -.8 1.6 -.5 1.2 -.1 3.6 -.3 2.8 0 1.2 .2 1.6 .6 1.6 1.4 .4 .2 .8 -.2 .4 -.3 .8 -.8" stroke="#ecc4b6" stroke-width="0.3" stroke-dasharray="0.9 0.5"/>
<path d="M146.8 169.3l.8 2.5 .8 4.5 .4 1.1 .4 -.7 1.6 -5.1 .4 -.5 .4 .2 .8 1 .8 1.3 .4 .3 .4 -.4 .8 -2 .8 -1.7 .4 -.4 .4 .3 .4 .5 .8 1.4 1.2 2.6 .4 .4 .4 -.2 1.2 -2.6 1.2 -1.4 .8 -.6 1.6 -.2 4.4 -.3 7.2 .1 .4 .1 .8 .3 1.2 .7 .4 0 1.2 -.6 1.2 -.5 11.2 0 .8 .2 .8 .4 1.2 1.2 .8 1.2 .4 .1 .4 -.4 .8 -1.2 .8 -.8 .8 -.5 .8 -.2 4.4 -.1 8 0 1.2 .5 .8 .7 .8 1.2 .8 1.5 .8 2.4 1.6 5.9 1.2 4.9 .4 1.1 .4 .4 .4 -.5 .4 -1.4 1.2 -5.7 1.2 -4 .8 -2.1 1.2 -2.1 .8 -1.1 .8 -.8 .8 -.5 .8 -.3 2.8 -.1 .4 .1 .8 .5 .4 .7 .4 .9 1.2 3.4 1.2 3.9 .4 1 .8 1.9 .4 .7 .4 .4 .4 -.2 .4 -.6 2 -4.5 .8 -1.4 1.6 -2.1 1.2 -1 1.2 -.7 2 -.8 1.6 -.6 2 -.5 6 -.9 .8 0 .8 .1 .4 .2 .4 .4 .8 1.7 .8 2.3 1.2 4.5 1.2 3.9 .4 1 .4 .6 .4 -.2 .4 -.8 1.2 -3.8 1.2 -4.5 1.2 -3.4 .4 -.9 .4 -.5 .8 -.5 .4 -.2 .8 0 1.2 .2 .4 .2 .8 .8 .4 -.1 .8 -.8 1.2 -.3 .4 -.1 .4 .2 .8 1.6 1.2 4.7 .4 1.2 1.2 2.3 .8 1.1 .8 .8 .4 .2 .4 0 .4 -.1 .8 -.5 3.2 -2.8 6.4 -6 1.2 -.8 2 -.8 1.6 -.5 1.2 -.1 3.6 -.2 2.8 -.1 1.2 .2 1.6 .6 1.6 1.4 .4 .2 .8 -.2 .4 -.2 .8 -.9" stroke="#ebc0b1" stroke-width="0.3"/>
<path d="M146.8 169.3l.8 2.6 .8 4.5 .4 1 .4 -.6 1.6 -5.1 .4 -.6 .4 .2 .8 1 .8 1.4 .4 .3 .4 -.5 .8 -2 .8 -1.7 .4 -.4 .4 .3 .4 .6 .8 1.4 1.2 2.5 .4 .5 .4 -.2 1.2 -2.7 1.2 -1.4 .8 -.6 1.6 -.2 4.4 -.2 7.2 0 .4 .1 .8 .4 1.2 .8 .4 0 1.2 -.8 1.2 -.4 5.2 -.1 6 0 .8 .2 .8 .5 1.2 1.4 .8 1.2 .4 .2 .4 -.5 .8 -1.3 .8 -1 .8 -.4 .8 -.3 4.4 -.1 8 0 1.2 .6 .4 .3 .4 .4 .8 1.4 .8 1.7 .8 2.6 1.6 6.6 1.2 5.4 .4 1.2 .4 .5 .4 -.6 .4 -1.6 1.2 -6.2 1.2 -4.5 .8 -2.4 1.2 -2.3 .8 -1.2 .8 -.9 .8 -.6 .8 -.3 2.8 -.1 .4 .2 .8 .5 .4 .7 .4 1 1.2 3.8 1.2 4.4 .4 1.1 .8 2.1 .4 .8 .4 .4 .4 -.2 .4 -.7 2 -5 .8 -1.6 1.6 -2.3 1.2 -1.1 1.2 -.7 2 -1 1.6 -.6 2 -.6 6 -.9 .8 -.1 .8 .2 .4 .2 .4 .3 .8 2 .8 2.5 1.2 5 1.2 4.3 .4 1.2 .4 .7 .4 -.3 .4 -.9 1.2 -4.2 1.2 -5 1.2 -3.8 .4 -.9 .4 -.6 .8 -.6 .4 -.2 .8 .1 1.2 .2 .4 .1 .8 1 .4 -.2 .8 -.9 1.2 -.3 .4 -.1 .4 .2 .8 1.6 1.2 4.7 .4 1.3 1.2 2.2 .8 1.2 .8 .8 .4 .2 .4 0 .4 -.1 .8 -.6 3.2 -2.8 6.4 -6 1.2 -.8 2 -.8 1.6 -.4 1.2 -.2 3.6 -.2 2.8 -.1 1.2 .3 1.6 .5 1.6 1.5 .4 .1 .8 -.2 .4 -.2 .8 -.9" stroke="#e9bcab" stroke-width="0.3" stroke-dasharray="0.9 0.5"/>
<path d="M146.8 169.3l.8 2.6 .8 4.5 .4 1.1 .4 -.7 1.6 -5.1 .4 -.6 .4 .3 .8 1 .8 1.3 .4 .3 .4 -.5 .8 -2 .8 -1.7 .4 -.4 .4 .3 .4 .6 .8 1.4 1.2 2.6 .4 .4 .4 -.2 1.2 -2.7 1.2 -1.4 .8 -.6 1.6 -.2 4.4 -.2 7.2 0 .4 .1 .8 .4 1.2 .9 .4 0 1.2 -.8 1.2 -.5 5.2 -.1 6 0 .8 .3 .8 .4 1.2 1.6 .8 1.4 .4 .1 .4 -.5 .8 -1.5 .8 -1 .8 -.5 .8 -.3 4.4 -.1 8 .1 1.2 .5 .4 .3 .4 .5 .8 1.5 .8 1.9 .8 2.9 1.6 7.2 1.2 6.1 .4 1.2 .4 .5 .4 -.6 .4 -1.7 1.2 -6.9 1.2 -4.9 .8 -2.6 1.2 -2.6 .8 -1.4 .8 -.9 .8 -.6 .8 -.4 2.8 0 .4 .1 .8 .6 .4 .7 .4 1.2 1.2 4.1 1.2 4.9 .4 1.2 .8 2.3 .4 .8 .4 .5 .4 -.2 .4 -.8 .8 -2.4 1.2 -3.1 .8 -1.7 1.6 -2.5 1.2 -1.3 1.2 -.8 2 -1 1.6 -.7 2 -.7 1.6 -.3 4.4 -.7 .8 -.1 .8 .2 .4 .2 .4 .4 .8 2.2 .8 2.8 1.2 5.4 1.2 4.8 .4 1.3 .4 .7 .4 -.2 .4 -1.1 1.2 -4.6 1.2 -5.5 1.2 -4.2 .4 -1 .4 -.6 .8 -.7 .4 -.1 .8 0 1.2 .2 .4 .2 .8 1 .4 -.1 .8 -1 1.2 -.4 .4 0 .4 .1 .8 1.7 1.2 4.7 .4 1.2 1.2 2.3 .8 1.2 .8 .8 .4 .2 .4 0 .4 -.1 .8 -.6 3.2 -2.8 6.4 -6.1 1.2 -.8 2 -.8 1.6 -.4 1.2 -.2 3.6 -.2 2.8 -.1 1.2 .3 1.6 .5 1.6 1.5 .4 .1 .8 -.1 .4 -.3 .8 -.9" stroke="#e7b7a6" stroke-width="0.3"/>
<path d="M146.8 169.3l.8 2.6 .8 4.6 .4 1 .4 -.6 1.6 -5.2 .4 -.5 .4 .2 .8 1 .8 1.3 .4 .4 .4 -.5 .8 -2.1 .8 -1.7 .4 -.4 .4 .3 .4 .6 .8 1.4 1.2 2.6 .4 .5 .4 -.2 1.2 -2.8 1.2 -1.4 .8 -.6 1.6 -.2 4.8 -.2 6.8 .1 .4 0 .8 .5 1.2 1 .4 0 1.2 -1 1.2 -.5 5.2 -.1 6 0 .8 .3 .8 .5 1.2 1.7 .8 1.5 .4 .2 .4 -.6 .8 -1.6 .8 -1.1 .8 -.5 .8 -.4 4.4 -.1 8 .1 1.2 .6 .4 .3 .4 .6 .8 1.6 .8 2.1 .8 3.1 1.6 7.9 1.2 6.6 .4 1.4 .4 .5 .4 -.7 .4 -1.9 1.2 -7.5 1.2 -5.3 .8 -2.9 1.2 -2.8 .8 -1.5 .8 -1 .8 -.7 .8 -.4 2.8 0 .4 .1 .8 .7 .4 .8 .4 1.2 1.2 4.5 1.2 5.3 .4 1.4 .8 2.5 .4 .9 .4 .5 .4 -.2 .4 -.9 .8 -2.6 1.2 -3.3 .8 -1.9 1.6 -2.8 1.2 -1.4 1.2 -.9 2 -1.1 1.6 -.7 2 -.7 1.6 -.4 4.4 -.8 .8 0 .8 .2 .4 .2 .4 .4 .8 2.4 .8 3 1.2 6 1.2 5.2 .4 1.4 .4 .8 .4 -.3 .4 -1.1 1.2 -5.1 1.2 -6 1.2 -4.5 .4 -1.1 .4 -.7 .8 -.7 .4 -.2 .8 0 1.2 .2 .4 .3 .8 1.1 .4 -.2 .8 -1.1 1.2 -.4 .4 0 .4 .1 .8 1.7 1.2 4.7 .4 1.3 1.2 2.3 .8 1.2 .8 .8 .4 .2 .4 0 .4 -.2 .8 -.5 3.2 -2.8 6.4 -6.1 1.2 -.9 2 -.8 1.6 -.4 1.2 -.2 3.6 -.2 2.8 -.1 1.2 .3 1.6 .5 1.6 1.5 .4 .2 .4 -.1 .4 -.1 .4 -.3 .8 -.8" stroke="#e5b3a0" stroke-width="0.3" stroke-dasharray="0.9 0.5"/>
<path d="M146.8 169.3l.8 2.6 .8 4.6 .4 1.1 .4 -.7 1.6 -5.2 .4 -.5 .4 .2 .8 1 .8 1.4 .4 .3 .4 -.5 .8 -2.1 .8 -1.7 .4 -.4 .4 .3 .4 .6 .8 1.4 1.2 2.7 .4 .4 .4 -.2 1.2 -2.7 1.2 -1.5 .8 -.6 1.6 -.2 4.8 -.2 6.8 .1 .4 .1 .8 .4 1.2 1.1 .4 0 1.2 -1 1.2 -.6 5.2 -.1 6 0 .8 .3 .8 .6 1.2 1.8 .8 1.6 .4 .2 .4 -.6 .8 -1.7 .8 -1.2 .8 -.6 .8 -.4 .4 0 4 -.1 8 .1 1.2 .6 .4 .4 .4 .6 .8 1.8 .8 2.2 .8 3.4 1.6 8.5 1.2 7.2 .4 1.5 .4 .6 .4 -.8 .4 -2 1.2 -8.1 1.2 -5.9 .8 -3 1.2 -3.1 .8 -1.6 .8 -1.1 .8 -.8 .8 -.4 2.8 0 .4 .1 .8 .7 .4 .9 .4 1.4 1.2 4.8 1.2 5.8 .4 1.4 .8 2.7 .4 1.1 .4 .5 .4 -.3 .4 -.9 .8 -2.8 1.2 -3.6 .8 -2.1 1.6 -3 1.2 -1.5 1.2 -.9 2 -1.3 1.6 -.7 2 -.8 1.6 -.4 4.4 -.9 .8 0 .8 .2 .4 .2 .4 .5 .8 2.6 .8 3.3 1.2 6.4 1.2 5.7 .4 1.5 .4 .8 .4 -.3 .4 -1.2 1.2 -5.5 1.2 -6.4 1.2 -5 .4 -1.2 .4 -.7 .8 -.8 .4 -.2 .8 0 1.2 .3 .4 .2 .8 1.2 .4 -.2 .8 -1.2 1.2 -.4 .4 0 .4 .1 .8 1.7 1.2 4.8 .4 1.2 1.2 2.4 .8 1.2 .8 .8 .4 .2 .4 0 .4 -.2 .8 -.5 3.2 -2.8 6.4 -6.2 1.2 -.8 2 -.9 1.6 -.4 1.2 -.2 3.6 -.2 2.8 -.1 1.2 .3 1.6 .5 1.6 1.5 .4 .2 .4 0 .4 -.2 .4 -.3 .8 -.8" stroke="#e2ae9b" stroke-width="0.3"/>
<path d="M146.8 169.3l.8 2.6 .8 4.7 .4 1.1 .4 -.7 1.6 -5.3 .4 -.5 .4 .2 .8 1 .8 1.4 .4 .3 .4 -.5 .8 -2 .8 -1.8 .4 -.4 .4 .3 .4 .6 .8 1.4 1.2 2.7 .4 .4 .4 -.2 1.2 -2.7 1.2 -1.5 .8 -.5 1.6 -.3 4.8 -.2 6.8 .1 .4 .1 .8 .5 1.2 1.1 .4 0 1.2 -1 1.2 -.7 5.2 -.1 6 0 .8 .4 .8 .6 1.2 1.9 .8 1.8 .4 .2 .4 -.7 .8 -1.8 .8 -1.3 .8 -.7 .8 -.4 .4 0 4 -.1 7.6 0 .4 .1 .4 .1 .8 .6 .4 .4 .4 .6 .8 1.9 .8 2.4 .8 3.6 1.6 9.3 1.2 7.7 .4 1.6 .4 .6 .4 -.8 .4 -2.2 1.2 -8.7 1.2 -6.3 .8 -3.3 1.2 -3.3 .8 -1.7 .8 -1.2 .8 -.8 .8 -.5 2.8 0 .4 .1 .8 .8 .4 1 .4 1.4 1.2 5.3 1.2 6.1 .4 1.6 .8 2.9 .4 1.1 .4 .6 .4 -.3 .4 -1 .8 -3 1.2 -3.9 .8 -2.2 1.6 -3.3 1.2 -1.6 1.2 -1 2 -1.3 1.6 -.9 2 -.8 1.6 -.4 4.4 -.9 .8 -.1 .8 .2 .4 .3 .4 .5 .8 2.8 .8 3.5 1.2 7 1.2 6 .4 1.7 .4 .9 .4 -.3 .4 -1.3 1.2 -5.9 1.2 -7 1.2 -5.3 .4 -1.3 .4 -.8 .8 -.9 .4 -.2 .8 0 1.2 .3 .4 .3 .8 1.3 .4 -.2 .8 -1.3 1.2 -.5 .4 0 .4 .1 .8 1.7 1.2 4.8 .4 1.3 1.2 2.3 .8 1.3 .8 .8 .4 .1 .4 .1 .4 -.2 .8 -.5 3.2 -2.9 6.4 -6.2 1.2 -.8 2 -.8 1.6 -.5 1.2 -.2 3.6 -.2 2.8 0 1.2 .2 1.6 .5 1.6 1.5 .4 .2 .4 0 .4 -.2 .4 -.2 .8 -.9" stroke="#e0a995" stroke-width="0.3" stroke-dasharray="0.9 0.5"/>
<path d="M146.8 169.3l.8 2.7 .8 4.6 .4 1.1 .4 -.6 1.6 -5.4 .4 -.5 .4 .2 .8 1.1 .8 1.3 .4 .4 .4 -.5 .8 -2.1 .8 -1.8 .4 -.4 .4 .3 .4 .6 .8 1.5 1.2 2.6 .4 .5 .4 -.2 1.2 -2.8 1.2 -1.5 .8 -.5 1.6 -.3 4.8 -.2 6.8 .1 .4 .1 .8 .6 1.2 1.2 .4 0 1.2 -1.2 1.2 -.7 5.2 -.1 6 0 .8 .4 .8 .6 1.2 2.1 .8 1.9 .4 .2 .4 -.7 .8 -2 .8 -1.3 .8 -.7 .8 -.4 .4 -.1 4 -.1 7.6 0 .4 .1 .4 .2 .8 .6 .4 .4 .4 .7 .8 2 .8 2.6 .8 3.8 1.6 9.9 1.2 8.3 .4 1.7 .4 .7 .4 -.9 .4 -2.3 1.2 -9.4 1.2 -6.7 .8 -3.6 1.2 -3.5 .8 -1.8 .8 -1.3 .8 -.9 .8 -.5 2.8 0 .4 .1 .8 .9 .4 1 .4 1.5 1.2 5.7 1.2 6.6 .4 1.7 .8 3.1 .4 1.2 .4 .6 .4 -.3 .4 -1.1 .8 -3.2 1.2 -4.2 .8 -2.4 1.6 -3.4 1.2 -1.8 1.2 -1.1 2 -1.4 1.6 -.9 2 -.9 1.6 -.4 4.4 -1 .8 -.1 .8 .3 .4 .3 .4 .5 .8 3 .8 3.8 1.2 7.4 1.2 6.5 .4 1.8 .4 .9 .4 -.3 .4 -1.4 1.2 -6.3 1.2 -7.5 1.2 -5.7 .4 -1.4 .4 -.8 .8 -.9 .4 -.3 .8 0 1.2 .3 .4 .3 .8 1.4 .4 -.2 .8 -1.4 1.2 -.5 .4 0 .4 .1 .8 1.7 1.2 4.9 .4 1.3 1.2 2.3 .8 1.3 .8 .8 .4 .1 .4 0 .4 -.1 .8 -.5 3.2 -2.9 6.4 -6.3 1.2 -.8 2 -.8 1.6 -.5 1.2 -.2 3.6 -.2 2.8 0 1.2 .2 1.6 .6 1.6 1.5 .4 .1 .4 0 .4 -.1 .4 -.3 .8 -.9" stroke="#dea48f" stroke-width="0.3"/>
<path d="M146.8 169.3l.8 2.7 .8 4.7 .4 1.1 .4 -.7 1.6 -5.3 .4 -.6 .4 .2 .8 1.1 .8 1.4 .4 .3 .4 -.5 .8 -2.1 .8 -1.8 .4 -.4 .4 .3 .4 .6 .8 1.5 1.2 2.7 .4 .4 .4 -.2 1.2 -2.8 .4 -.5 1.2 -1.3 .4 -.2 .4 -.1 2.4 -.3 2.8 -.1 4 0 3.6 .1 .4 .1 .8 .6 1.2 1.3 .4 0 1.2 -1.2 1.2 -.7 3.6 -.2 7.2 0 .8 .2 1.2 .9 1.2 2.2 .8 2.1 .4 .2 .4 -.8 .8 -2.1 .8 -1.5 .8 -.7 .8 -.4 .4 -.1 4 -.1 7.6 0 .4 .1 .4 .2 .8 .6 .4 .5 .4 .7 .8 2.1 .8 2.8 .8 4.1 1.6 10.6 1.2 8.8 .4 1.9 .4 .7 .4 -1 .4 -2.5 1.2 -10 1.2 -7.1 .8 -3.8 1.2 -3.8 .8 -1.9 .8 -1.4 .8 -.9 .8 -.6 2.8 0 .4 .2 .8 .9 .4 1 .4 1.7 1.2 6 1.2 7.1 .4 1.7 .8 3.4 .4 1.2 .4 .7 .4 -.3 .4 -1.2 .8 -3.4 1.2 -4.5 .8 -2.5 1.6 -3.7 1.2 -1.8 1.2 -1.2 2 -1.5 1.6 -1 2 -1 1.6 -.5 4.4 -1 .8 -.1 .4 .1 .4 .2 .4 .3 .4 .6 .8 3.2 .8 4 1.2 7.9 1.2 7 .4 1.9 .4 1 .4 -.4 .4 -1.5 1.2 -6.7 1.2 -8 1.2 -6.1 .4 -1.4 .4 -.9 .8 -1 .4 -.3 .8 0 1.2 .4 .4 .3 .8 1.5 .4 -.3 .8 -1.4 1.2 -.6 .4 0 .4 .1 .8 1.7 1.2 4.9 .4 1.3 1.2 2.4 .8 1.2 .8 .9 .4 .1 .4 0 .4 -.1 .8 -.5 3.2 -2.9 6.4 -6.4 1.2 -.8 2 -.8 1.6 -.5 1.2 -.2 3.6 -.2 2.8 0 1.2 .2 1.6 .6 1.6 1.5 .4 .2 .4 -.1 .4 -.1 .4 -.3 .8 -.9" stroke="#dc9f89" stroke-width="0.3" stroke-dasharray="0.9 0.5"/>
<path d="M146.8 169.3l.8 2.7 .8 4.7 .4 1.1 .4 -.6 1.6 -5.4 .4 -.6 .4 .3 .8 1 .8 1.4 .4 .3 .4 -.5 .8 -2.1 .8 -1.8 .4 -.4 .4 .3 .4 .6 .8 1.5 1.2 2.7 .4 .5 .4 -.2 1.2 -2.8 .4 -.6 1.2 -1.3 .4 -.2 .4 -.1 2.4 -.3 2.8 -.1 4 0 3.6 .1 .4 .1 .8 .7 1.2 1.3 .4 .1 1.2 -1.3 1.2 -.8 3.6 -.2 7.2 0 .8 .2 1.2 1 1.2 2.4 .8 2.1 .4 .3 .4 -.9 .8 -2.2 .8 -1.6 .8 -.8 .8 -.4 .4 -.1 4 -.1 7.6 0 .4 .1 .4 .2 .8 .7 .4 .5 .4 .7 .8 2.3 .8 2.9 .8 4.4 1.6 11.2 1.2 9.4 .4 2 .4 .7 .4 -1 .4 -2.6 1.2 -10.6 1.2 -7.6 .8 -4.1 1.2 -4 .8 -2 .8 -1.5 .8 -1 .4 -.4 .4 -.2 2.8 0 .4 .2 .8 .9 .4 1.2 .4 1.7 1.2 6.4 1.2 7.5 .4 1.9 .8 3.6 .4 1.3 .4 .7 .4 -.3 .4 -1.3 .8 -3.6 1.2 -4.8 .8 -2.7 1.6 -3.9 1.2 -1.9 1.2 -1.3 2 -1.6 1.6 -1 2 -1 1.6 -.6 4.4 -1 .8 -.1 .4 0 .4 .3 .4 .3 .4 .6 .8 3.4 .8 4.3 1.2 8.4 1.2 7.4 .4 2 .4 1 .4 -.3 .4 -1.6 1.2 -7.2 1.2 -8.5 1.2 -6.4 .4 -1.6 .4 -.9 .8 -1.1 .4 -.3 .8 .1 1.2 .3 .4 .3 .8 1.6 .4 -.2 .8 -1.6 1.2 -.5 .4 -.1 .4 .1 .8 1.8 1.2 4.9 .4 1.3 1.2 2.4 .8 1.2 .8 .8 .4 .2 .4 0 .4 -.1 .8 -.5 3.2 -3 6.4 -6.3 1.2 -.9 2 -.8 1.6 -.5 1.2 -.2 3.6 -.2 2.8 0 1.2 .2 1.6 .6 1.6 1.5 .4 .2 .4 0 .4 -.2 .4 -.3 .8 -.9" stroke="#d99a83" stroke-width="0.3"/>
<path d="M146.8 169.3l.8 2.7 .8 4.8 .4 1.1 .4 -.7 1.6 -5.4 .4 -.6 .4 .3 .8 1 .8 1.4 .4 .4 .4 -.5 .8 -2.2 .8 -1.8 .4 -.4 .4 .3 .4 .6 .8 1.5 1.2 2.8 .4 .4 .4 -.2 1.2 -2.8 .4 -.6 1.2 -1.3 .4 -.2 .4 -.1 2.8 -.3 2.8 -.1 4 0 3.2 .1 .4 .2 .8 .6 1.2 1.5 .4 0 1.2 -1.4 1.2 -.8 3.6 -.2 7.2 0 .8 .2 1.2 1.1 1.2 2.5 .8 2.2 .4 .3 .4 -.8 .8 -2.4 .8 -1.7 .8 -.8 .8 -.5 .4 -.1 4 -.1 7.6 0 .4 .1 .4 .2 .8 .7 .4 .5 .4 .9 .8 2.4 .8 3.1 .8 4.6 1.6 11.9 1.2 9.9 .4 2.1 .4 .8 .4 -1.1 .4 -2.8 1.2 -11.2 1.2 -8.1 .8 -4.2 1.2 -4.3 .8 -2.2 .8 -1.5 .8 -1.1 .4 -.4 .4 -.2 2.8 0 .4 .2 .8 1 .4 1.2 .4 1.9 1.2 6.7 1.2 8 .4 2 .8 3.7 .4 1.5 .4 .7 .4 -.4 .4 -1.3 .8 -3.8 1.2 -5.1 .8 -2.8 1.6 -4.2 1.2 -2 1.2 -1.3 2 -1.8 1.6 -1 2 -1.1 1.6 -.6 4.4 -1.1 .8 -.1 .4 .1 .4 .2 .4 .3 .4 .7 .8 3.6 .8 4.5 1.2 8.9 1.2 7.8 .4 2.2 .4 1.1 .4 -.4 .4 -1.7 1.2 -7.6 1.2 -8.9 1.2 -6.9 .4 -1.6 .4 -1 .8 -1.1 .4 -.3 .8 0 1.2 .4 .4 .3 .8 1.7 .4 -.3 .8 -1.7 1.2 -.5 .4 -.1 .4 .1 .8 1.8 1.2 4.9 .4 1.3 1.2 2.4 .8 1.3 .8 .8 .4 .2 .4 0 .4 -.1 .8 -.6 3.2 -2.9 6.4 -6.4 1.2 -.9 2 -.8 1.6 -.5 1.2 -.2 3.6 -.2 2.8 0 1.2 .2 1.6 .6 1.6 1.5 .4 .2 .4 0 .4 -.2 .4 -.3 .8 -.9" stroke="#d7947d" stroke-width="0.3" stroke-dasharray="0.9 0.5"/>
<path d="M146.8 169.3l.8 2.7 .8 4.8 .4 1.2 .4 -.7 1.6 -5.5 .4 -.5 .4 .2 .8 1.1 .8 1.4 .4 .3 .4 -.5 .8 -2.1 .8 -1.9 .4 -.3 .4 .2 .4 .6 .8 1.5 1.2 2.8 .4 .4 .4 -.2 1.2 -2.8 .4 -.6 1.2 -1.3 .4 -.2 .4 -.1 2.8 -.3 2.8 -.1 4 0 3.2 .1 .4 .2 .8 .7 1.2 1.5 .4 0 1.2 -1.4 1.2 -.9 3.6 -.2 7.2 0 .8 .2 1.2 1.1 1.2 2.7 .8 2.4 .4 .3 .4 -.9 .8 -2.6 .8 -1.7 .8 -.9 .8 -.5 .4 -.1 4 -.1 7.6 0 .4 .1 .4 .2 .8 .8 .4 .5 .4 .9 .8 2.5 .8 3.3 .8 4.9 1.6 12.6 1.2 10.4 .4 2.2 .4 .9 .4 -1.2 .4 -2.9 1.2 -11.9 1.2 -8.5 .8 -4.5 1.2 -4.4 .8 -2.4 .8 -1.6 .8 -1.1 .4 -.4 .4 -.3 2.8 0 .4 .2 .8 1.1 .4 1.3 .4 1.9 1.2 7.1 1.2 8.4 .4 2.2 .8 3.9 .4 1.5 .4 .8 .4 -.4 .4 -1.4 .8 -4 1.2 -5.4 .8 -3 1.6 -4.3 1.2 -2.2 1.2 -1.4 2 -1.8 1.6 -1.2 2 -1.1 1.6 -.6 4.4 -1.2 .8 -.1 .4 .1 .4 .2 .4 .4 .4 .7 .8 3.7 .8 4.8 1.2 9.5 1.2 8.2 .4 2.3 .4 1.2 .4 -.5 .4 -1.7 1.2 -8.1 1.2 -9.4 1.2 -7.2 .4 -1.8 .4 -1 .8 -1.2 .4 -.3 .8 0 1.2 .4 .4 .3 .8 1.8 .4 -.3 .8 -1.7 1.2 -.6 .4 -.1 .4 .1 .8 1.8 1.2 5 .4 1.3 1.2 2.4 .8 1.3 .8 .8 .4 .2 .4 0 .4 -.1 .8 -.6 3.2 -2.9 6.4 -6.5 1.2 -.8 2 -.9 1.6 -.5 1.2 -.2 3.6 -.2 2.8 0 1.2 .2 1.6 .6 1.6 1.5 .4 .2 .4 0 .4 -.2 .4 -.2 .8 -.9" stroke="#d58f76" stroke-width="0.3"/>
<path d="M146.8 169.3l.8 2.8 .8 4.8 .4 1.1 .4 -.7 1.6 -5.5 .4 -.5 .4 .2 .8 1.1 .8 1.4 .4 .3 .4 -.5 .8 -2.1 .8 -1.8 .4 -.4 .4 .2 .4 .7 .8 1.5 1.2 2.7 .4 .5 .4 -.2 1.2 -2.9 .4 -.6 1.2 -1.3 .4 -.2 .4 -.1 2.8 -.3 2.8 -.1 4 0 3.2 .2 .4 .1 .8 .8 1.2 1.6 .4 0 1.2 -1.6 1.2 -.9 3.6 -.2 7.2 0 .4 .1 .4 .2 .8 .6 .4 .5 1.2 2.8 .8 2.5 .4 .3 .4 -.9 .8 -2.7 .8 -1.8 .8 -.9 .8 -.6 .4 -.1 4 -.1 7.6 0 .4 .1 .4 .2 .8 .8 .4 .6 .4 .9 .8 2.7 .8 3.5 .8 5.1 1.6 13.2 1.2 11 .4 2.3 .4 .9 .4 -1.2 .4 -3.1 1.2 -12.5 1.2 -8.9 .8 -4.7 1.2 -4.7 .8 -2.5 .8 -1.7 .8 -1.2 .4 -.4 .4 -.3 2.8 0 .4 .2 .8 1.1 .4 1.4 .4 2.1 1.2 7.5 1.2 8.8 .4 2.2 .8 4.2 .4 1.6 .4 .8 .4 -.4 .4 -1.5 .8 -4.2 1.2 -5.6 .8 -3.2 1.6 -4.6 1.2 -2.3 1.2 -1.5 2 -1.9 1.6 -1.2 2 -1.2 1.6 -.6 4.4 -1.3 .8 -.1 .4 .1 .4 .3 .4 .3 .4 .8 .8 3.9 .8 5.1 1.2 9.9 1.2 8.7 .4 2.4 .4 1.2 .4 -.4 .4 -1.9 1.2 -8.4 1.2 -10 1.2 -7.6 .4 -1.9 .4 -1 .8 -1.3 .4 -.3 .8 0 1.2 .4 .4 .4 .8 1.9 .4 -.4 .8 -1.8 1.2 -.6 .4 -.1 .4 .1 .8 1.8 1.2 5 .4 1.4 1.2 2.4 .8 1.3 .8 .8 .4 .2 .4 0 .4 -.1 .8 -.6 3.2 -3 6.4 -6.5 1.2 -.8 2 -.9 1.6 -.5 1.2 -.2 3.6 -.2 2.8 0 1.2 .2 1.6 .6 1.6 1.6 .4 .1 .4 0 .4 -.1 .4 -.3 .8 -.9" stroke="#d28a70" stroke-width="0.3" stroke-dasharray="0.9 0.5"/>
<path d="M146.8 169.3l.8 2.8 .8 4.8 .4 1.2 .4 -.7 1.6 -5.5 .4 -.6 .4 .2 .8 1.1 .8 1.4 .4 .4 .4 -.5 .8 -2.2 .8 -1.8 .4 -.4 .4 .2 .4 .7 .8 1.5 1.2 2.8 .4 .4 .4 -.2 1.2 -2.9 .4 -.5 1.2 -1.4 .4 -.2 .4 -.1 2.8 -.3 2.8 -.1 4 0 3.2 .2 .4 .1 .8 .8 1.2 1.7 .4 0 1.2 -1.6 1.2 -1 3.6 -.1 7.2 -.1 .4 .1 .4 .2 .8 .7 .4 .5 1.2 2.9 .8 2.7 .4 .3 .4 -1 .8 -2.8 .8 -1.9 .8 -1 .8 -.6 .4 -.1 4 -.1 7.6 0 .4 .1 .4 .3 .8 .8 .4 .6 .4 1 .8 2.8 .8 3.6 .8 5.4 1.6 13.9 1.2 11.5 .4 2.5 .4 .9 .4 -1.3 .4 -3.2 1.2 -13.1 1.2 -9.4 .8 -5 1.2 -4.9 .8 -2.6 .8 -1.8 .8 -1.2 .4 -.5 .4 -.3 2.8 0 .4 .2 .8 1.2 .4 1.4 .4 2.2 1.2 7.9 1.2 9.2 .4 2.4 .8 4.4 .4 1.6 .4 .9 .4 -.4 .4 -1.6 .8 -4.5 1.2 -5.8 .8 -3.4 1.6 -4.8 .8 -1.7 .4 -.7 1.2 -1.5 2 -2 1.6 -1.3 2 -1.2 1.6 -.7 2.8 -.8 1.6 -.5 .8 -.2 .4 .1 .4 .3 .4 .4 .4 .8 .8 4.1 .8 5.3 1.2 10.4 1.2 9.2 .4 2.5 .4 1.3 .4 -.5 .4 -2 1.2 -8.8 1.2 -10.5 1.2 -8 .4 -1.9 .4 -1.1 .8 -1.4 .4 -.3 .8 0 1.2 .5 .4 .4 .8 1.9 .4 -.3 .8 -1.9 1.2 -.7 .4 -.1 .4 .1 .8 1.8 1.2 5.1 .4 1.3 1.2 2.5 .8 1.3 .8 .8 .4 .2 .4 0 .4 -.1 .8 -.6 3.2 -3 6.4 -6.5 1.2 -.9 2 -.9 1.6 -.5 1.2 -.1 3.6 -.3 2.8 0 1.2 .2 1.6 .6 1.6 1.6 .4 .2 .4 -.1 .4 -.1 .4 -.3 .8 -.9" stroke="#d08469" stroke-width="0.3"/>
<path d="M146.8 169.3l.8 2.8 .8 4.9 .4 1.1 .4 -.7 1.6 -5.5 .4 -.6 .4 .2 .8 1.1 .8 1.5 .4 .3 .4 -.5 .8 -2.2 .8 -1.8 .4 -.4 .4 .2 .4 .7 .8 1.5 1.2 2.8 .4 .5 .4 -.2 1.2 -2.9 .4 -.6 1.2 -1.4 .4 -.2 .4 -.1 2.8 -.3 2.8 -.1 4 0 3.2 .2 .4 .1 .8 .9 1.2 1.7 .4 0 1.2 -1.6 1.2 -1 .4 -.1 3.2 -.1 7.2 -.1 .4 .1 .4 .2 .8 .8 .4 .5 1.2 3 .8 2.8 .4 .3 .4 -1 .8 -2.9 .8 -2.1 .8 -1 .8 -.6 .4 -.1 4 -.1 7.6 0 .4 .1 .4 .3 .8 .8 .4 .7 .4 1 .8 2.9 .8 3.8 .8 5.7 1.6 14.5 1.2 12.1 .4 2.6 .4 1 .4 -1.4 .4 -3.4 1.2 -13.7 1.2 -9.8 .8 -5.3 1.2 -5.1 .8 -2.7 .8 -1.9 .8 -1.3 .4 -.5 .4 -.3 2.8 0 .4 .3 .8 1.2 .4 1.5 .4 2.2 1.2 8.3 1.2 9.7 .4 2.5 .8 4.5 .4 1.8 .4 .9 .4 -.4 .4 -1.7 .8 -4.7 1.2 -6.1 .8 -3.5 1.6 -5.1 .8 -1.8 .4 -.7 1.2 -1.6 2 -2.1 1.6 -1.3 2 -1.3 1.6 -.7 2.8 -.8 1.6 -.6 .8 -.1 .4 .1 .4 .2 .4 .5 .4 .8 .8 4.3 .8 5.6 1.2 10.9 1.2 9.5 .4 2.7 .4 1.3 .4 -.5 .4 -2 1.2 -9.3 1.2 -11 1.2 -8.3 .4 -2.1 .4 -1.1 .8 -1.4 .4 -.4 .8 0 1.2 .5 .4 .4 .8 2 .4 -.3 .8 -2 1.2 -.7 .4 -.1 .4 .1 .8 1.8 1.2 5.1 .4 1.4 1.2 2.4 .8 1.4 .8 .8 .4 .2 .4 0 .4 -.1 .8 -.6 3.2 -3 6.4 -6.6 1.2 -.9 2 -.9 1.6 -.4 1.2 -.2 3.6 -.3 2.8 0 1.2 .2 1.6 .6 1.6 1.6 .4 .2 .4 0 .4 -.2 .4 -.3 .8 -.9" stroke="#cd7e63" stroke-width="0.3" stroke-dasharray="0.9 0.5"/>
<path d="M146.8 169.3l.8 2.8 .8 5 .4 1.1 .4 -.7 1.6 -5.6 .4 -.6 .4 .3 .8 1.1 .8 1.4 .4 .4 .4 -.6 .8 -2.2 .8 -1.8 .4 -.4 .4 .2 .4 .7 .8 1.5 1.2 2.9 .4 .4 .4 -.2 1.2 -2.9 .4 -.6 1.2 -1.3 .4 -.3 .4 -.1 2.8 -.3 2.8 -.1 4 0 3.2 .2 .4 .2 .8 .8 1.2 1.9 .4 0 1.2 -1.8 1.2 -1 .4 -.1 3.2 -.1 7.2 -.1 .4 .1 .4 .2 .8 .8 .4 .5 1.2 3.2 .8 3 .4 .3 .4 -1.1 .8 -3.1 .8 -2.1 .8 -1 .8 -.7 .4 -.1 4 -.1 7.6 0 .4 .1 .4 .3 .8 .9 .4 .7 .4 1 .8 3.1 .8 4 .8 5.9 1.6 15.2 1.2 12.6 .4 2.7 .4 1 .4 -1.4 .4 -3.5 1.2 -14.4 1.2 -10.3 .8 -5.4 1.2 -5.4 .8 -2.8 .8 -2 .8 -1.3 .4 -.6 .4 -.3 2.8 0 .4 .3 .8 1.3 .4 1.5 .4 2.4 1.2 8.6 1.2 10.2 .4 2.5 .8 4.8 .4 1.8 .4 1 .4 -.5 .4 -1.7 .8 -4.9 1.2 -6.4 .8 -3.6 1.6 -5.3 .8 -1.9 .4 -.8 1.2 -1.7 2 -2.2 1.6 -1.3 2 -1.4 1.6 -.7 2.8 -.9 1.6 -.6 .8 -.1 .4 .1 .4 .3 .4 .4 .4 .9 .8 4.5 .8 5.8 1.2 11.4 1.2 10 .4 2.8 .4 1.4 .4 -.5 .4 -2.2 1.2 -9.7 1.2 -11.4 1.2 -8.8 .4 -2.1 .4 -1.2 .8 -1.5 .4 -.4 .8 .1 1.2 .4 .4 .5 .8 2.1 .4 -.4 .8 -2 1.2 -.8 .4 -.1 .4 .1 .8 1.9 1.2 5.1 .4 1.3 1.2 2.5 .8 1.3 .8 .9 .4 .2 .4 0 .4 -.2 .8 -.5 3.2 -3.1 6.4 -6.6 1.2 -.9 2 -.8 1.6 -.5 1.2 -.2 3.6 -.3 2.8 0 1.2 .2 1.6 .6 1.6 1.6 .4 .2 .4 0 .4 -.2 .4 -.3 .8 -.9" stroke="#b85a38" stroke-width="0.5"/>
<path d="M146.8 169.3l.8 2.8 .8 5 .4 1.2 .4 -.8 1.6 -5.6 .4 -.6 .4 .3 .8 1.1 .8 1.4 .4 .4 .4 -.5 .8 -2.3 .8 -1.8 .4 -.4 .4 .2 .4 .7 .8 1.5 1.2 2.9 .4 .5 .4 -.2 1.2 -3 .4 -.6 1.2 -1.3 .4 -.3 .4 -.1 2.8 -.3 2.8 -.1 4 0 3.2 .2 .4 .2 .8 .9 1.2 1.9 .4 0 1.2 -1.8 .8 -.8 .4 -.3 .4 -.1 3.2 -.1 7.2 -.1 .4 .1 .4 .2 .8 .9 .4 .5 1.2 3.4 .8 3 .4 .3 .4 -1.1 .8 -3.2 .8 -2.2 .8 -1.1 .8 -.7 .4 -.1 4 -.1 7.6 0 .4 .1 .4 .3 .8 1 .4 .6 .4 1.2 .8 3.2 .8 4.1 .8 6.2 1.6 15.8 1.2 13.2 .4 2.8 .4 1.1 .4 -1.5 .4 -3.7 1.2 -15 1.2 -10.7 .8 -5.7 1.2 -5.6 .8 -2.9 .8 -2.1 .8 -1.4 .4 -.5 .4 -.4 2.8 0 .4 .3 .8 1.3 .4 1.7 .4 2.4 1.2 9 1.2 10.6 .4 2.7 .8 5 .4 1.9 .4 1 .4 -.5 .4 -1.8 .8 -5.1 1.2 -6.7 .8 -3.8 1.6 -5.5 .8 -2 .4 -.8 1.2 -1.7 2 -2.3 1.6 -1.5 2 -1.4 1.6 -.7 2.8 -.9 1.6 -.7 .8 -.1 .4 .1 .4 .3 .4 .5 .4 .9 .8 4.7 .8 6.1 1.2 11.9 1.2 10.4 .4 2.9 .4 1.4 .4 -.5 .4 -2.2 1.2 -10.2 1.2 -11.9 1.2 -9.1 .4 -2.3 .4 -1.2 .8 -1.6 .4 -.3 .8 0 1.2 .5 .4 .4 .8 2.2 .4 -.3 .8 -2.2 1.2 -.8 .4 -.1 .4 .1 .8 1.9 1.2 5.1 .4 1.4 1.2 2.5 .8 1.3 .8 .9 .4 .2 .4 0 .4 -.2 .8 -.5 3.2 -3.1 6.4 -6.7 1.2 -.8 2 -.9 1.6 -.5 1.2 -.2 3.6 -.3 2.8 0 1.2 .2 1.6 .7 1.6 1.6 .4 .1 .4 0 .4 -.1 .4 -.3 .8 -1" stroke="#a33a1c" stroke-width="0.8"/>
<path d="M205.2 169.3l10 0 4.8 .2 4 -.2 8.4 0 6.8 .3 9.2 -.3 9.6 0 2 .1 3.6 .5 1.2 .1 4.4 -.6 6.4 -.1" stroke="#b0c3ed" stroke-width="0.4"/>
<path d="M205.2 169.3l10 0 1.6 .2 3.2 .6 .8 -.1 1.6 -.5 1.6 -.2 8.4 0 2 .2 4.8 .8 .8 0 3.2 -.5 5.2 -.3 9.6 -.2 .8 .1 1.2 .3 3.6 2.1 .8 .2 .4 0 .8 -.2 1.6 -1.1 2 -1.1 2.4 -.3 4 0" stroke="#a6bbea" stroke-width="0.4"/>
<path d="M205.2 169.3l10 .1 1.6 .2 2.8 1.1 .4 .1 .8 -.2 1.6 -1 1.6 -.2 8.4 -.1 2 .4 4 1.3 .8 .1 .8 -.1 1.6 -.4 1.6 -.3 5.2 -.7 4.4 -.2 5.2 -.1 .8 .2 .8 .3 .4 .3 3.6 3.5 .8 .5 .4 0 .4 -.1 .4 -.3 1.6 -1.9 2 -1.9 1.2 -.4 1.2 -.2 4 0" stroke="#99afe5" stroke-width="0.4"/>
<path d="M205.2 169.3l8.8 0 1.2 .1 .8 .1 .8 .3 1.2 .5 1.6 1 .4 .1 .4 -.1 .4 -.2 1.6 -1.3 1.6 -.4 1.2 -.1 7.2 0 2 .5 4 1.9 .8 .2 .8 -.1 1.6 -.7 1.6 -.4 5.2 -.9 4.4 -.4 5.2 -.1 .8 .2 .8 .5 .4 .4 3.6 5.1 .4 .4 .4 .2 .4 .1 .4 -.2 .4 -.5 1.6 -2.6 1.6 -2.3 .4 -.5 1.2 -.5 1.2 -.3 4 0" stroke="#88a2de" stroke-width="0.4"/>
<path d="M205.2 169.3l8.8 0 1.2 .1 .8 .2 .8 .3 1.2 .8 1.6 1.2 .4 .1 .4 -.1 .4 -.3 1.6 -1.7 1.6 -.5 1.2 -.1 7.2 0 2 .7 4 2.4 .8 .2 .8 -.1 1.6 -.9 1.6 -.5 5.2 -1.2 1.6 -.2 2.8 -.2 5.2 -.2 .4 .1 .4 .2 .8 .6 .4 .5 3.6 6.6 .4 .5 .4 .4 .4 0 .4 -.3 .4 -.5 1.6 -3.5 1.6 -3 .4 -.5 .4 -.3 .8 -.4 1.2 -.4 4 0" stroke="#7593d8" stroke-width="0.4"/>
<path d="M205.2 169.3l8.8 0 1.2 .1 .8 .2 .8 .4 1.2 1 1.6 1.5 .4 .1 .4 -.1 .4 -.3 1.6 -2.2 .8 -.3 .8 -.3 1.2 -.1 7.2 0 .8 .3 1.2 .6 2.4 1.6 1.6 1.3 .8 .3 .4 0 .4 -.1 1.6 -1.1 1.6 -.7 2 -.6 3.2 -.9 1.6 -.2 2.8 -.3 5.2 -.2 .4 .1 .4 .3 .8 .7 .4 .6 3.6 8.1 .4 .7 .4 .4 .4 .1 .4 -.4 .4 -.7 1.6 -4.2 1.6 -3.7 .4 -.7 .4 -.4 .8 -.4 1.2 -.5 4 0" stroke="#6182d0" stroke-width="0.4"/>
<path d="M205.2 169.4l8.8 -.1 1.2 .2 .8 .2 .8 .5 1.2 1.1 1.6 1.8 .4 .1 .4 -.1 .4 -.4 1.6 -2.5 .8 -.5 .8 -.3 1.2 -.1 7.2 0 .8 .4 1.2 .6 2.4 2 1.6 1.5 .8 .4 .4 0 .4 -.2 1.6 -1.3 1.6 -.8 2 -.7 3.2 -1 1.6 -.3 2.8 -.3 5.2 -.3 .4 .1 .4 .3 .8 .9 .4 .7 2 5.2 1.6 4.5 .4 .8 .4 .4 .4 .1 .4 -.4 .4 -.8 1.6 -5 1.6 -4.4 .4 -.8 .4 -.5 .8 -.6 1.2 -.5 4 0" stroke="#4b70c8" stroke-width="0.4"/>
<path d="M205.2 169.4l8.8 -.1 1.2 .2 .8 .3 .8 .5 1.2 1.3 1.6 2 .4 .3 .4 -.2 .4 -.5 1.6 -2.9 .8 -.5 .8 -.3 1.2 -.2 7.2 .1 .8 .3 1.2 .8 2.4 2.3 1.6 1.7 .8 .5 .4 0 .4 -.2 1.6 -1.5 1.6 -1 2 -.8 3.2 -1.2 1.6 -.4 2.8 -.3 2.8 -.2 2.4 -.1 .4 .1 .4 .4 .8 1 .4 .9 2 6 1.6 5.1 .4 .9 .4 .6 .4 .1 .4 -.5 .4 -.9 1.6 -5.9 1.6 -5 .4 -1 .4 -.5 .8 -.7 .8 -.4 .4 -.2 4 0" stroke="#335dbf" stroke-width="0.4"/>
<path d="M205.2 169.4l8.8 -.1 1.2 .2 .8 .3 .8 .6 1.2 1.4 1.6 2.2 .4 .3 .4 -.2 .4 -.5 1.6 -3.2 .8 -.6 .8 -.3 1.2 -.2 7.2 .1 .8 .4 1.2 .8 2.4 2.5 1.6 1.9 .8 .5 .4 0 .4 -.2 1.6 -1.7 1.6 -1 2 -1 3.2 -1.2 1.6 -.4 2.8 -.4 2.8 -.2 2.4 -.1 .4 .1 .4 .4 .8 1.2 .4 .9 2 6.5 1.6 5.7 .4 .9 .4 .7 .4 .1 .4 -.5 .4 -1.1 1.6 -6.4 1.6 -5.5 .4 -1 .4 -.6 .8 -.7 .8 -.5 .4 -.2 4 0" stroke="#234fb4" stroke-width="0.8"/>
<path d="M146.8 169.3l.8 3 .8 5.2 .4 1.2 .4 -.7 1.6 -6 .4 -.6 .4 .2 .8 1.2 .8 1.5 .4 .4 .4 -.6 .8 -2.3 .8 -2 .4 -.4 .4 .3 .4 .7 .8 1.6 1.2 3 .4 .5 .4 -.2 1.2 -3.1 .8 -1.2 .8 -.9 .4 -.2 .8 -.2" stroke="#5e1c10" stroke-width="1"/>
<path d="M146.8 169.3l.8 2.1 .8 3.6 .4 .9 .4 -.5 1.6 -4.2 .4 -.4 .4 .1 .8 .9 .8 1 .4 .3 .4 -.4 .8 -1.7 .8 -1.3 .4 -.3 .4 .2 .4 .4 .8 1.2 1.2 2.1 .4 .3 .4 -.1 1.2 -2.2 .8 -.8 .8 -.6 .4 -.2 .8 -.1" stroke="#d8402a" stroke-width="0.6"/>
</g>
<g stroke="#222" stroke-width="0.95" fill="none">
<path d="M146.7,168 V257.5 H313.6"/>
<line x1="145.2" y1="169.2" x2="146.8" y2="169.2" stroke-width="0.6"/>
<line x1="145.2" y1="186.8" x2="146.8" y2="186.8" stroke-width="0.6"/>
<line x1="145.2" y1="204.4" x2="146.8" y2="204.4" stroke-width="0.6"/>
<line x1="145.2" y1="222.0" x2="146.8" y2="222.0" stroke-width="0.6"/>
<line x1="145.2" y1="239.6" x2="146.8" y2="239.6" stroke-width="0.6"/>
<line x1="145.2" y1="257.2" x2="146.8" y2="257.2" stroke-width="0.6"/>
<line x1="159.5" y1="257.2" x2="159.5" y2="258.8" stroke-width="0.6"/>
<line x1="180.8" y1="257.2" x2="180.8" y2="258.8" stroke-width="0.6"/>
<line x1="202.1" y1="257.2" x2="202.1" y2="258.8" stroke-width="0.6"/>
<line x1="223.4" y1="257.2" x2="223.4" y2="258.8" stroke-width="0.6"/>
<line x1="244.7" y1="257.2" x2="244.7" y2="258.8" stroke-width="0.6"/>
<line x1="266.0" y1="257.2" x2="266.0" y2="258.8" stroke-width="0.6"/>
<line x1="287.3" y1="257.2" x2="287.3" y2="258.8" stroke-width="0.6"/>
<line x1="308.6" y1="257.2" x2="308.6" y2="258.8" stroke-width="0.6"/>
</g>
<line x1="313.5" y1="168" x2="313.5" y2="257.6" stroke="#8a8a8a" stroke-width="0.7"/>
<g font-family='"Liberation Sans", sans-serif' font-size="4" fill="#222">
<text x="144" y="170.6" text-anchor="end">1.0</text>
<text x="144" y="188.20000000000002" text-anchor="end">0.9</text>
<text x="144" y="205.8" text-anchor="end">0.8</text>
<text x="144" y="223.4" text-anchor="end">0.7</text>
<text x="144" y="241.0" text-anchor="end">0.6</text>
<text x="144" y="258.59999999999997" text-anchor="end">0.5</text>
<text x="159.5" y="263.5" text-anchor="middle">500</text>
<text x="180.8" y="263.5" text-anchor="middle">750</text>
<text x="202.1" y="263.5" text-anchor="middle">1000</text>
<text x="223.4" y="263.5" text-anchor="middle">1250</text>
<text x="244.7" y="263.5" text-anchor="middle">1500</text>
<text x="266.0" y="263.5" text-anchor="middle">1750</text>
<text x="287.3" y="263.5" text-anchor="middle">2000</text>
<text x="308.6" y="263.5" text-anchor="middle">2250</text>
</g>
<text x="230.4" y="272.6" text-anchor="middle" font-family='"Liberation Sans", sans-serif' font-size="9.9" fill="#111" textLength="68" lengthAdjust="spacingAndGlyphs">Wavelength [nm]</text>
<text transform="translate(135.5,213) rotate(-90)" text-anchor="middle" font-family='"Liberation Sans", sans-serif' font-size="8" fill="#111" textLength="61" lengthAdjust="spacingAndGlyphs">Scaled reflectance</text>
<rect x="10" y="43.4" width="100.4" height="90.79999999999998" fill="#c5b89d" stroke="#34388a" stroke-width="0.9"/>
<path d="M9.8,44.4 V22.9 Q9.8,19.9 12.8,19.9 H107.60000000000001 Q110.60000000000001,19.9 110.60000000000001,22.9 V44.4 Z" fill="#2a3694"/>
<text x="60.3" y="29" text-anchor="middle" font-family='"Liberation Sans", sans-serif' font-size="7.5" fill="#fff" textLength="81" lengthAdjust="spacingAndGlyphs">Plastic type 1 as fractional</text>
<text x="60.3" y="37.6" text-anchor="middle" font-family='"Liberation Sans", sans-serif' font-size="7.5" fill="#fff" textLength="53.5" lengthAdjust="spacingAndGlyphs">cover on a beach</text>
<circle cx="60.4" cy="86.5" r="40" fill="none" stroke="#f0352f" stroke-width="1.35"/>
<line x1="86" y1="117.5" x2="92" y2="123.5" stroke="#f0352f" stroke-width="1.35"/>
<text x="92.4" y="129" font-family='"Liberation Sans", sans-serif' font-size="6.2" font-weight="bold" fill="#f0352f" textLength="13.6" lengthAdjust="spacingAndGlyphs">FOV</text>
<rect x="-4.9" y="-4.9" width="9.8" height="9.8" transform="translate(49.2,76.6) rotate(16.5)" fill="#1f6fc8" stroke="#1f4f9c" stroke-width="0.5"/>
<rect x="-4.9" y="-4.9" width="9.8" height="9.8" transform="translate(70.4,78.3) rotate(0)" fill="#1f6fc8" stroke="#1f4f9c" stroke-width="0.5"/>
<rect x="-4.8" y="-4.8" width="9.6" height="9.6" transform="translate(50.2,94.6) rotate(-21)" fill="#1f6fc8" stroke="#1f4f9c" stroke-width="0.5"/>
<rect x="-4.7" y="-4.7" width="9.4" height="9.4" transform="translate(70.6,94.6) rotate(34)" fill="#1f6fc8" stroke="#1f4f9c" stroke-width="0.5"/>
<rect x="10" y="160.2" width="100.4" height="91.0" fill="#c5b89d" stroke="#34388a" stroke-width="0.9"/>
<path d="M9.8,161.2 V140.6 Q9.8,137.6 12.8,137.6 H107.60000000000001 Q110.60000000000001,137.6 110.60000000000001,140.6 V161.2 Z" fill="#2a3694"/>
<text x="60.3" y="146.4" text-anchor="middle" font-family='"Liberation Sans", sans-serif' font-size="7.5" fill="#fff" textLength="81" lengthAdjust="spacingAndGlyphs">Plastic type 2 as fractional</text>
<text x="60.3" y="155" text-anchor="middle" font-family='"Liberation Sans", sans-serif' font-size="7.5" fill="#fff" textLength="53.5" lengthAdjust="spacingAndGlyphs">cover on a beach</text>
<circle cx="60.4" cy="203.6" r="40" fill="none" stroke="#f0352f" stroke-width="1.35"/>
<line x1="86" y1="234.6" x2="92" y2="240.6" stroke="#f0352f" stroke-width="1.35"/>
<text x="92.4" y="246.2" font-family='"Liberation Sans", sans-serif' font-size="6.2" font-weight="bold" fill="#f0352f" textLength="13.6" lengthAdjust="spacingAndGlyphs">FOV</text>
<rect x="-4.9" y="-4.9" width="9.8" height="9.8" transform="translate(49.2,194.1) rotate(16.5)" fill="#c5152d" stroke="#b01228" stroke-width="0.5"/>
<rect x="-4.9" y="-4.9" width="9.8" height="9.8" transform="translate(70.4,195.7) rotate(0)" fill="#c5152d" stroke="#b01228" stroke-width="0.5"/>
<rect x="-4.8" y="-4.8" width="9.6" height="9.6" transform="translate(50.2,212) rotate(-21)" fill="#c5152d" stroke="#b01228" stroke-width="0.5"/>
<rect x="-4.7" y="-4.7" width="9.4" height="9.4" transform="translate(70.6,212) rotate(34)" fill="#c5152d" stroke="#b01228" stroke-width="0.5"/>
<g fill="none" stroke="#111" stroke-width="1.3" stroke-dasharray="2.4 1.5">
<path d="M100.6,78 H125.8 V170.4 H204"/>
<path d="M100.6,206.5 H204.5"/>
<path d="M315,205.8 H327.4 V149.6 H336"/>
</g>
<path d="M203.8,167 L216.4,170.8 L203.8,174.4 Z" fill="#3a3a3a"/>
<path d="M203.8,202.8 L217.6,206.5 L203.8,210.2 Z" fill="#3a3a3a"/>
<path d="M335,145.8 L347.2,149.5 L335,153.2 Z" fill="#3a3a3a"/>
<path d="M146.4,24.1 V4.5 Q146.4,1 149.9,1 H310.7 Q314.2,1 314.2,4.5 V24.1 Z" fill="#2a3694"/>
<text x="230.5" y="11" text-anchor="middle" font-family='"Liberation Sans", sans-serif' font-size="7.5" fill="#fff" textLength="145" lengthAdjust="spacingAndGlyphs">Spectral reflectance against sand backgrounds</text>
<path d="M146.2,167.8 V147.9 Q146.2,144.4 149.7,144.4 H310.9 Q314.4,144.4 314.4,147.9 V167.8 Z" fill="#2a3694"/>
<text x="231.4" y="157.4" text-anchor="middle" font-family='"Liberation Sans", sans-serif' font-size="7.5" fill="#fff" textLength="162" lengthAdjust="spacingAndGlyphs">Spectral feature shape and magnitude vary between</text>
<text x="231.3" y="165.4" text-anchor="middle" font-family='"Liberation Sans", sans-serif' font-size="7.5" fill="#fff" textLength="23.4" lengthAdjust="spacingAndGlyphs">plastics.</text>
<path d="M369.6,77 V190.6 H544 V77" fill="none" stroke="#949494" stroke-width="0.9"/>
<g stroke="#949494" stroke-width="0.8">
<line x1="367.6" y1="78.4" x2="369.6" y2="78.4"/>
<line x1="367.6" y1="100.7" x2="369.6" y2="100.7"/>
<line x1="367.6" y1="123.1" x2="369.6" y2="123.1"/>
<line x1="367.6" y1="145.5" x2="369.6" y2="145.5"/>
<line x1="367.6" y1="167.9" x2="369.6" y2="167.9"/>
<line x1="367.6" y1="190.3" x2="369.6" y2="190.3"/>
<line x1="370.0" y1="190.6" x2="370.0" y2="192.6"/>
<line x1="403.3" y1="190.6" x2="403.3" y2="192.6"/>
<line x1="436.6" y1="190.6" x2="436.6" y2="192.6"/>
<line x1="469.8" y1="190.6" x2="469.8" y2="192.6"/>
<line x1="503.1" y1="190.6" x2="503.1" y2="192.6"/>
<line x1="536.4" y1="190.6" x2="536.4" y2="192.6"/>
</g>
<g font-family='"Liberation Sans", sans-serif' font-size="7.3" fill="#333">
<text x="366.3" y="81.0" text-anchor="end">1.0</text>
<text x="366.3" y="103.3" text-anchor="end">0.9</text>
<text x="366.3" y="125.69999999999999" text-anchor="end">0.8</text>
<text x="366.3" y="148.1" text-anchor="end">0.7</text>
<text x="366.3" y="170.5" text-anchor="end">0.6</text>
<text x="366.3" y="192.9" text-anchor="end">0.5</text>
<text x="370.0" y="199.2" text-anchor="middle">0</text>
<text x="403.3" y="199.2" text-anchor="middle">5</text>
<text x="436.6" y="199.2" text-anchor="middle">10</text>
<text x="469.8" y="199.2" text-anchor="middle">15</text>
<text x="503.1" y="199.2" text-anchor="middle">20</text>
<text x="536.4" y="199.2" text-anchor="middle">25</text>
</g>
<text x="456.8" y="208.4" text-anchor="middle" font-family='"Liberation Sans", sans-serif' font-size="9" fill="#333" textLength="105.6" lengthAdjust="spacingAndGlyphs">Surface cover of plastic (%)</text>
<text transform="translate(353.3,133) rotate(-90)" text-anchor="middle" font-family='"Liberation Sans", sans-serif' font-size="8.3" fill="#333" textLength="68" lengthAdjust="spacingAndGlyphs">Scaled reflectance</text>
<line x1="382.3" y1="88.4" x2="382.3" y2="145" stroke="#444" stroke-width="0.7"/>
<line x1="396.5" y1="88.4" x2="396.5" y2="169" stroke="#444" stroke-width="0.7"/>
<text x="379.6" y="153.2" font-family='"Liberation Sans", sans-serif' font-size="8.4" fill="#222">2%</text>
<text x="394" y="179" font-family='"Liberation Sans", sans-serif' font-size="8.4" fill="#222">4%</text>
<rect x="381.75" y="84.75" width="1.7" height="1.7" rx="0.4" fill="#1f77b4"/>
<rect x="388.75" y="88.75" width="1.7" height="1.7" rx="0.4" fill="#1f77b4"/>
<rect x="395.75" y="94.15" width="1.7" height="1.7" rx="0.4" fill="#1f77b4"/>
<rect x="402.15" y="98.75" width="1.7" height="1.7" rx="0.4" fill="#1f77b4"/>
<rect x="408.95" y="100.55" width="1.7" height="1.7" rx="0.4" fill="#1f77b4"/>
<rect x="415.55" y="102.55" width="1.7" height="1.7" rx="0.4" fill="#1f77b4"/>
<rect x="422.35" y="106.15" width="1.7" height="1.7" rx="0.4" fill="#1f77b4"/>
<rect x="428.95" y="109.15" width="1.7" height="1.7" rx="0.4" fill="#1f77b4"/>
<rect x="435.75" y="111.15" width="1.7" height="1.7" rx="0.4" fill="#1f77b4"/>
<rect x="442.25" y="115.15" width="1.7" height="1.7" rx="0.4" fill="#1f77b4"/>
<rect x="449.15" y="117.95" width="1.7" height="1.7" rx="0.4" fill="#1f77b4"/>
<rect x="455.75" y="119.75" width="1.7" height="1.7" rx="0.4" fill="#1f77b4"/>
<rect x="462.35" y="123.75" width="1.7" height="1.7" rx="0.4" fill="#1f77b4"/>
<rect x="469.15" y="126.75" width="1.7" height="1.7" rx="0.4" fill="#1f77b4"/>
<rect x="475.75" y="129.75" width="1.7" height="1.7" rx="0.4" fill="#1f77b4"/>
<rect x="482.35" y="131.75" width="1.7" height="1.7" rx="0.4" fill="#1f77b4"/>
<rect x="489.15" y="133.95" width="1.7" height="1.7" rx="0.4" fill="#1f77b4"/>
<rect x="495.75" y="135.75" width="1.7" height="1.7" rx="0.4" fill="#1f77b4"/>
<rect x="502.35" y="138.75" width="1.7" height="1.7" rx="0.4" fill="#1f77b4"/>
<rect x="509.15" y="140.75" width="1.7" height="1.7" rx="0.4" fill="#1f77b4"/>
<rect x="515.75" y="143.15" width="1.7" height="1.7" rx="0.4" fill="#1f77b4"/>
<rect x="522.55" y="146.15" width="1.7" height="1.7" rx="0.4" fill="#1f77b4"/>
<rect x="529.15" y="148.15" width="1.7" height="1.7" rx="0.4" fill="#1f77b4"/>
<rect x="536.15" y="146.75" width="1.7" height="1.7" rx="0.4" fill="#1f77b4"/>
<rect x="395.75" y="84.15" width="1.7" height="1.7" rx="0.4" fill="#e0202a"/>
<rect x="402.15" y="86.55" width="1.7" height="1.7" rx="0.4" fill="#e0202a"/>
<rect x="408.95" y="88.55" width="1.7" height="1.7" rx="0.4" fill="#e0202a"/>
<rect x="415.55" y="87.95" width="1.7" height="1.7" rx="0.4" fill="#e0202a"/>
<rect x="422.35" y="89.35" width="1.7" height="1.7" rx="0.4" fill="#e0202a"/>
<rect x="428.95" y="89.95" width="1.7" height="1.7" rx="0.4" fill="#e0202a"/>
<rect x="435.75" y="93.15" width="1.7" height="1.7" rx="0.4" fill="#e0202a"/>
<rect x="442.25" y="94.75" width="1.7" height="1.7" rx="0.4" fill="#e0202a"/>
<rect x="449.15" y="95.35" width="1.7" height="1.7" rx="0.4" fill="#e0202a"/>
<rect x="455.75" y="96.55" width="1.7" height="1.7" rx="0.4" fill="#e0202a"/>
<rect x="462.35" y="97.15" width="1.7" height="1.7" rx="0.4" fill="#e0202a"/>
<rect x="469.15" y="98.75" width="1.7" height="1.7" rx="0.4" fill="#e0202a"/>
<rect x="475.75" y="101.15" width="1.7" height="1.7" rx="0.4" fill="#e0202a"/>
<rect x="482.35" y="104.15" width="1.7" height="1.7" rx="0.4" fill="#e0202a"/>
<rect x="489.15" y="105.15" width="1.7" height="1.7" rx="0.4" fill="#e0202a"/>
<rect x="495.75" y="105.95" width="1.7" height="1.7" rx="0.4" fill="#e0202a"/>
<rect x="502.35" y="106.15" width="1.7" height="1.7" rx="0.4" fill="#e0202a"/>
<rect x="509.15" y="107.75" width="1.7" height="1.7" rx="0.4" fill="#e0202a"/>
<rect x="515.75" y="109.75" width="1.7" height="1.7" rx="0.4" fill="#e0202a"/>
<rect x="522.55" y="111.15" width="1.7" height="1.7" rx="0.4" fill="#e0202a"/>
<rect x="529.15" y="112.15" width="1.7" height="1.7" rx="0.4" fill="#e0202a"/>
<rect x="536.15" y="114.55" width="1.7" height="1.7" rx="0.4" fill="#e0202a"/>
<path d="M367.6,77.9 V55.9 Q367.6,52.4 371.1,52.4 H540.7 Q544.2,52.4 544.2,55.9 V77.9 Z" fill="#2a3694"/>
<text x="455.8" y="63.2" text-anchor="middle" font-family='"Liberation Sans", sans-serif' font-size="8.2" fill="#fff" textLength="148.4" lengthAdjust="spacingAndGlyphs">This affects the minimum detection limit for</text>
<text x="455.8" y="72.6" text-anchor="middle" font-family='"Liberation Sans", sans-serif' font-size="8.2" fill="#fff" textLength="68.4" lengthAdjust="spacingAndGlyphs">plastics on beaches</text>
</svg>
</body></html>
